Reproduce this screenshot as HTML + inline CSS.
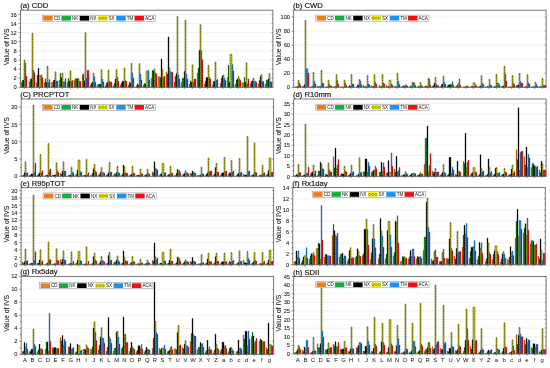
<!DOCTYPE html><html><head><meta charset="utf-8"><title>IVS</title><style>html,body{margin:0;padding:0;background:#fff}svg{display:block}text{font-family:"Liberation Sans",sans-serif;fill:#111}</style></head><body>
<svg width="550" height="368" viewBox="0 0 550 368">
<defs><pattern id="lo" width="2.35" height="2.35" patternUnits="userSpaceOnUse"><rect width="2.35" height="2.35" fill="#f47808"/><path d="M0 0L2.35 2.35M2.35 0L0 2.35" stroke="#c89860" stroke-width="0.25"/></pattern><pattern id="lg" width="2.35" height="2.35" patternUnits="userSpaceOnUse"><rect width="2.35" height="2.35" fill="#0eb03e"/><path d="M-1 2.35L2.35 -1M0 3.35L3.35 0" stroke="#3a8a50" stroke-width="0.28"/></pattern></defs>
<g>
<path d="M20.4 78.19H272.9M20.4 69.08H272.9M20.4 59.96H272.9M20.4 50.85H272.9M20.4 41.74H272.9M20.4 32.63H272.9M20.4 23.52H272.9M20.4 14.4H272.9" stroke="#e9e9e9" stroke-width="0.6" fill="none"/>
<path d="M21 87.3v-5.01h1V87.3zM29 87.3v-5.47h1V87.3zM36 87.3v-4.56h1V87.3zM44 87.3v-4.56h1V87.3zM51 87.3v-5.01h2V87.3zM59 87.3v-7.29h1V87.3zM67 87.3v-5.01h1V87.3zM74 87.3v-6.83h1V87.3zM82 87.3v-12.3h1V87.3zM90 87.3v-2.28h1V87.3zM97 87.3v-2.28h1V87.3zM105 87.3v-1.59h1V87.3zM113 87.3v-1.59h1V87.3zM120 87.3v-2.28h1V87.3zM128 87.3v-2.28h1V87.3zM136 87.3v-1.59h1V87.3zM143 87.3v-2.28h1V87.3zM151 87.3v-9.11h1V87.3zM158 87.3v-10.71h2V87.3zM166 87.3v-15.49h1V87.3zM174 87.3v-5.01h1V87.3zM181 87.3v-5.01h1V87.3zM189 87.3v-3.19h1V87.3zM197 87.3v-14.35h1V87.3zM204 87.3v-3.19h1V87.3zM212 87.3v-2.28h1V87.3zM220 87.3v-4.1h1V87.3zM227 87.3v-9.8h1V87.3zM235 87.3v-3.19h1V87.3zM242 87.3v-4.56h2V87.3zM250 87.3v-3.64h1V87.3zM258 87.3v-3.19h1V87.3zM265 87.3v-3.19h1V87.3z" fill="#e07a1c" stroke="#4a2200" stroke-width="0.45" stroke-opacity="0.5"/>
<path d="M21.5 83.19V87.3M29.5 82.73V87.3M36.5 83.64V87.3M44.5 83.64V87.3M52 83.19V87.3M59.5 80.91V87.3M67.5 83.19V87.3M74.5 81.37V87.3M82.5 75.9V87.3M90.5 85.92V87.3M97.5 85.92V87.3M105.5 86.61V87.3M113.5 86.61V87.3M120.5 85.92V87.3M128.5 85.92V87.3M136.5 86.61V87.3M143.5 85.92V87.3M151.5 79.09V87.3M159 77.49V87.3M166.5 72.71V87.3M174.5 83.19V87.3M181.5 83.19V87.3M189.5 85.01V87.3M197.5 73.85V87.3M204.5 85.01V87.3M212.5 85.92V87.3M220.5 84.1V87.3M227.5 78.4V87.3M235.5 85.01V87.3M243 83.64V87.3M250.5 84.56V87.3M258.5 85.01V87.3M265.5 85.01V87.3" stroke="#7a3c08" stroke-width="1" stroke-dasharray="0.7 1.5" stroke-opacity="0.55" fill="none"/>
<path d="M22 87.3v-6.83h1V87.3zM30 87.3v-8.2h1V87.3zM37 87.3v-12.3h1V87.3zM45 87.3v-8.43h1V87.3zM53 87.3v-6.83h1V87.3zM60 87.3v-14.12h1V87.3zM68 87.3v-8.88h1V87.3zM75 87.3v-8.88h2V87.3zM83 87.3v-13.67h1V87.3zM91 87.3v-4.1h1V87.3zM98 87.3v-3.19h2V87.3zM106 87.3v-4.1h1V87.3zM114 87.3v-4.1h1V87.3zM121 87.3v-4.1h1V87.3zM129 87.3v-5.24h1V87.3zM137 87.3v-3.64h1V87.3zM144 87.3v-4.1h1V87.3zM152 87.3v-17.09h1V87.3zM160 87.3v-9.8h1V87.3zM167 87.3v-13.21h1V87.3zM175 87.3v-11.16h1V87.3zM182 87.3v-9.11h2V87.3zM190 87.3v-6.61h1V87.3zM198 87.3v-19.36h1V87.3zM205 87.3v-6.15h1V87.3zM213 87.3v-5.7h1V87.3zM221 87.3v-9.11h1V87.3zM228 87.3v-22.1h1V87.3zM236 87.3v-7.29h1V87.3zM244 87.3v-9.8h1V87.3zM251 87.3v-6.15h1V87.3zM259 87.3v-6.83h1V87.3zM266 87.3v-7.29h2V87.3z" fill="#16a038" stroke="#002a08" stroke-width="0.45" stroke-opacity="0.5"/>
<path d="M22.5 81.37V87.3M30.5 80V87.3M37.5 75.9V87.3M45.5 79.77V87.3M53.5 81.37V87.3M60.5 74.08V87.3M68.5 79.32V87.3M76 79.32V87.3M83.5 74.53V87.3M91.5 84.1V87.3M99 85.01V87.3M106.5 84.1V87.3M114.5 84.1V87.3M121.5 84.1V87.3M129.5 82.96V87.3M137.5 84.56V87.3M144.5 84.1V87.3M152.5 71.12V87.3M160.5 78.4V87.3M167.5 74.99V87.3M175.5 77.04V87.3M183 79.09V87.3M190.5 81.59V87.3M198.5 68.84V87.3M205.5 82.05V87.3M213.5 82.5V87.3M221.5 79.09V87.3M228.5 66.1V87.3M236.5 80.91V87.3M244.5 78.4V87.3M251.5 82.05V87.3M259.5 81.37V87.3M267 80.91V87.3" stroke="#04300c" stroke-width="1" stroke-dasharray="0.9 1.3" stroke-opacity="0.8" fill="none"/>
<path d="M23 87.3v-7.29h1V87.3zM31 87.3v-8.43h1V87.3zM38 87.3v-19.14h1V87.3zM46 87.3v-5.01h1V87.3zM54 87.3v-7.29h1V87.3zM61 87.3v-9.57h1V87.3zM69 87.3v-6.38h1V87.3zM77 87.3v-8.2h1V87.3zM84 87.3v-6.38h1V87.3zM92 87.3v-5.01h1V87.3zM100 87.3v-3.19h1V87.3zM107 87.3v-5.01h1V87.3zM115 87.3v-8.2h1V87.3zM122 87.3v-6.15h2V87.3zM130 87.3v-4.1h1V87.3zM138 87.3v-2.28h1V87.3zM145 87.3v-3.19h1V87.3zM153 87.3v-16.4h1V87.3zM161 87.3v-28.25h1V87.3zM168 87.3v-50.34h1V87.3zM176 87.3v-13.9h1V87.3zM184 87.3v-15.95h1V87.3zM191 87.3v-5.24h1V87.3zM199 87.3v-36.9h1V87.3zM206 87.3v-9.8h2V87.3zM214 87.3v-6.15h1V87.3zM222 87.3v-11.39h1V87.3zM229 87.3v-5.01h1V87.3zM237 87.3v-8.2h1V87.3zM245 87.3v-5.01h1V87.3zM252 87.3v-6.61h1V87.3zM260 87.3v-11.16h1V87.3zM268 87.3v-8.43h1V87.3z" fill="#0c0c0c" stroke="#000" stroke-width="0.55" stroke-opacity="0.55"/>
<path d="M24 87.3v-27.34h1V87.3zM32 87.3v-54.22h1V87.3zM39 87.3v-11.85h2V87.3zM47 87.3v-21.19h1V87.3zM55 87.3v-15.49h1V87.3zM62 87.3v-14.12h1V87.3zM70 87.3v-16.63h1V87.3zM78 87.3v-8.88h1V87.3zM85 87.3v-54.67h1V87.3zM93 87.3v-14.12h1V87.3zM101 87.3v-17.5h1V87.3zM108 87.3v-17.31h1V87.3zM116 87.3v-17.54h1V87.3zM124 87.3v-19.36h1V87.3zM131 87.3v-24.15h1V87.3zM139 87.3v-23.69h1V87.3zM146 87.3v-16.4h2V87.3zM154 87.3v-18.45h1V87.3zM162 87.3v-18h1V87.3zM169 87.3v-19.59h1V87.3zM177 87.3v-70.85h1V87.3zM185 87.3v-67.2h1V87.3zM192 87.3v-22.55h1V87.3zM200 87.3v-62.65h1V87.3zM208 87.3v-22.1h1V87.3zM215 87.3v-25.29h1V87.3zM223 87.3v-12.3h1V87.3zM230 87.3v-33.03h2V87.3zM238 87.3v-10.71h1V87.3zM246 87.3v-24.6h1V87.3zM253 87.3v-9.11h1V87.3zM261 87.3v-12.76h1V87.3zM269 87.3v-13.9h1V87.3z" fill="#d6d612" stroke="#66660a" stroke-width="0.75" stroke-opacity="0.75"/>
<path d="M24.5 60.86V87.3M32.5 33.98V87.3M40 76.35V87.3M47.5 67.01V87.3M55.5 72.71V87.3M62.5 74.08V87.3M70.5 71.57V87.3M78.5 79.32V87.3M85.5 33.53V87.3M93.5 74.08V87.3M101.5 70.7V87.3M108.5 70.89V87.3M116.5 70.66V87.3M124.5 68.84V87.3M131.5 64.05V87.3M139.5 64.51V87.3M147 71.8V87.3M154.5 69.75V87.3M162.5 70.2V87.3M169.5 68.61V87.3M177.5 17.35V87.3M185.5 21V87.3M192.5 65.65V87.3M200.5 25.55V87.3M208.5 66.1V87.3M215.5 62.91V87.3M223.5 75.9V87.3M231 55.17V87.3M238.5 77.49V87.3M246.5 63.6V87.3M253.5 79.09V87.3M261.5 75.44V87.3M269.5 74.3V87.3" stroke="#3c3c00" stroke-width="1" stroke-dasharray="0.8 1.8" stroke-opacity="0.7" fill="none"/>
<path d="M25 87.3v-24.15h1V87.3zM33 87.3v-17.09h1V87.3zM41 87.3v-12.3h1V87.3zM48 87.3v-4.56h1V87.3zM56 87.3v-6.15h1V87.3zM63 87.3v-5.47h2V87.3zM71 87.3v-5.92h1V87.3zM79 87.3v-6.15h1V87.3zM86 87.3v-8.88h1V87.3zM94 87.3v-10.48h1V87.3zM102 87.3v-8.2h1V87.3zM109 87.3v-6.15h1V87.3zM117 87.3v-10.02h1V87.3zM125 87.3v-6.61h1V87.3zM132 87.3v-14.35h1V87.3zM140 87.3v-13.21h1V87.3zM148 87.3v-16.86h1V87.3zM155 87.3v-14.35h1V87.3zM163 87.3v-9.8h1V87.3zM170 87.3v-15.49h2V87.3zM178 87.3v-12.3h1V87.3zM186 87.3v-13.44h1V87.3zM193 87.3v-5.24h1V87.3zM201 87.3v-36.45h1V87.3zM209 87.3v-9.8h1V87.3zM216 87.3v-6.83h1V87.3zM224 87.3v-9.11h1V87.3zM232 87.3v-22.78h1V87.3zM239 87.3v-8.2h1V87.3zM247 87.3v-3.19h1V87.3zM254 87.3v-6.15h2V87.3zM262 87.3v-5.7h1V87.3zM270 87.3v-5.7h1V87.3z" fill="#1a8ce2" stroke="#08335e" stroke-width="0.55" stroke-opacity="0.55"/>
<path d="M26 87.3v-10.93h1V87.3zM34 87.3v-14.58h1V87.3zM42 87.3v-9.57h1V87.3zM49 87.3v-7.75h1V87.3zM57 87.3v-6.38h1V87.3zM65 87.3v-8.43h1V87.3zM72 87.3v-6.83h1V87.3zM80 87.3v-5.7h1V87.3zM87 87.3v-16.86h2V87.3zM95 87.3v-5.01h1V87.3zM103 87.3v-5.24h1V87.3zM110 87.3v-5.24h2V87.3zM118 87.3v-6.15h1V87.3zM126 87.3v-6.15h1V87.3zM133 87.3v-9.11h1V87.3zM141 87.3v-7.29h1V87.3zM149 87.3v-7.29h1V87.3zM156 87.3v-13.44h1V87.3zM164 87.3v-10.93h1V87.3zM172 87.3v-14.81h1V87.3zM179 87.3v-8.2h1V87.3zM187 87.3v-8.2h1V87.3zM194 87.3v-8.2h2V87.3zM202 87.3v-27.56h1V87.3zM210 87.3v-8.2h1V87.3zM217 87.3v-7.75h1V87.3zM225 87.3v-6.83h1V87.3zM233 87.3v-16.4h1V87.3zM240 87.3v-6.83h1V87.3zM248 87.3v-8.2h1V87.3zM256 87.3v-5.01h1V87.3zM263 87.3v-5.7h1V87.3zM271 87.3v-5.24h1V87.3z" fill="#e4142a" stroke="#55000a" stroke-width="0.5" stroke-opacity="0.5"/>
<rect x="20.4" y="10.2" width="252.5" height="77.1" fill="none" stroke="#626262" stroke-width="0.85"/>
<text x="16.8" y="89.45" font-size="5.75" text-anchor="end" stroke="#111" stroke-width="0.05">0</text>
<text x="16.8" y="80.34" font-size="5.75" text-anchor="end" stroke="#111" stroke-width="0.05">2</text>
<text x="16.8" y="71.23" font-size="5.75" text-anchor="end" stroke="#111" stroke-width="0.05">4</text>
<text x="16.8" y="62.11" font-size="5.75" text-anchor="end" stroke="#111" stroke-width="0.05">6</text>
<text x="16.8" y="53" font-size="5.75" text-anchor="end" stroke="#111" stroke-width="0.05">8</text>
<text x="16.8" y="43.89" font-size="5.75" text-anchor="end" stroke="#111" stroke-width="0.05">10</text>
<text x="16.8" y="34.78" font-size="5.75" text-anchor="end" stroke="#111" stroke-width="0.05">12</text>
<text x="16.8" y="25.67" font-size="5.75" text-anchor="end" stroke="#111" stroke-width="0.05">14</text>
<text x="16.8" y="16.55" font-size="5.75" text-anchor="end" stroke="#111" stroke-width="0.05">16</text>
<path d="M18.4 87.3H20.4M19.2 82.74H20.4M18.4 78.19H20.4M19.2 73.63H20.4M18.4 69.08H20.4M19.2 64.52H20.4M18.4 59.96H20.4M19.2 55.41H20.4M18.4 50.85H20.4M19.2 46.3H20.4M18.4 41.74H20.4M19.2 37.18H20.4M18.4 32.63H20.4M19.2 28.07H20.4M18.4 23.52H20.4M19.2 18.96H20.4M18.4 14.4H20.4M24.2 87.3v1.6M31.84 87.3v1.6M39.48 87.3v1.6M47.12 87.3v1.6M54.76 87.3v1.6M62.4 87.3v1.6M70.04 87.3v1.6M77.68 87.3v1.6M85.32 87.3v1.6M92.96 87.3v1.6M100.6 87.3v1.6M108.24 87.3v1.6M115.88 87.3v1.6M123.52 87.3v1.6M131.16 87.3v1.6M138.8 87.3v1.6M146.44 87.3v1.6M154.08 87.3v1.6M161.72 87.3v1.6M169.36 87.3v1.6M177 87.3v1.6M184.64 87.3v1.6M192.28 87.3v1.6M199.92 87.3v1.6M207.56 87.3v1.6M215.2 87.3v1.6M222.84 87.3v1.6M230.48 87.3v1.6M238.12 87.3v1.6M245.76 87.3v1.6M253.4 87.3v1.6M261.04 87.3v1.6M268.68 87.3v1.6" stroke="#626262" stroke-width="0.7" fill="none"/>
<path d="M271.5 87.3H272.9M272.06 82.74H272.9M271.5 78.19H272.9M272.06 73.63H272.9M271.5 69.08H272.9M272.06 64.52H272.9M271.5 59.96H272.9M272.06 55.41H272.9M271.5 50.85H272.9M272.06 46.3H272.9M271.5 41.74H272.9M272.06 37.18H272.9M271.5 32.63H272.9M272.06 28.07H272.9M271.5 23.52H272.9M272.06 18.96H272.9M271.5 14.4H272.9" stroke="#626262" stroke-width="0.6" fill="none"/>
<text x="20.3" y="7.9" font-size="7.65" stroke="#111" stroke-width="0.15">(a) CDD</text>
<text transform="translate(9.0,46.8) rotate(-90)" font-size="6.7" text-anchor="middle" stroke="#111" stroke-width="0.08">Value of IVS</text>
<rect x="42.3" y="15.2" width="113.2" height="6.1" fill="#fff" stroke="#8a8a8a" stroke-width="0.5"/>
<rect x="43.2" y="15.9" width="9.4" height="4.7" fill="url(#lo)"/>
<text x="53.7" y="19.9" font-size="4.5" fill="#707070">CD</text>
<rect x="61.47" y="15.9" width="9.4" height="4.7" fill="url(#lg)"/>
<text x="71.97" y="19.9" font-size="4.5" fill="#707070">NK</text>
<rect x="79.74" y="15.9" width="9.4" height="4.7" fill="#000"/>
<text x="90.24" y="19.9" font-size="4.5" fill="#707070">NX</text>
<rect x="98.01" y="15.9" width="9.4" height="4.7" fill="#f2f20c"/>
<circle cx="99.58" cy="18.25" r="1.1" fill="none" stroke="#55550a" stroke-width="0.5"/>
<circle cx="102.71" cy="18.25" r="1.1" fill="none" stroke="#55550a" stroke-width="0.5"/>
<circle cx="105.84" cy="18.25" r="1.1" fill="none" stroke="#55550a" stroke-width="0.5"/>
<text x="108.51" y="19.9" font-size="4.5" fill="#707070">SX</text>
<rect x="116.28" y="15.9" width="9.4" height="4.7" fill="#1e90f0"/>
<text x="126.78" y="19.9" font-size="4.5" fill="#707070">TM</text>
<rect x="134.55" y="15.9" width="9.4" height="4.7" fill="#f01010"/>
<text x="145.05" y="19.9" font-size="4.5" fill="#707070">ACA</text>
</g>
<g>
<path d="M293.65 73.25H546.1M293.65 59.2H546.1M293.65 45.15H546.1M293.65 31.1H546.1M293.65 17.05H546.1" stroke="#e9e9e9" stroke-width="0.6" fill="none"/>
<path d="M294 87.3v-0.42h2V87.3zM302 87.3v-0.7h1V87.3zM310 87.3v-0.42h1V87.3zM317 87.3v-1.12h1V87.3zM325 87.3v-0.35h1V87.3zM333 87.3v-0.42h1V87.3zM340 87.3v-0.35h1V87.3zM348 87.3v-0.56h1V87.3zM356 87.3v-0.56h1V87.3zM363 87.3v-2.04h1V87.3zM371 87.3v-1.69h1V87.3zM379 87.3v-2.04h1V87.3zM386 87.3v-2.04h1V87.3zM394 87.3v-1.12h1V87.3zM401 87.3v-0.7h2V87.3zM409 87.3v-0.42h1V87.3zM417 87.3v-0.42h1V87.3zM424 87.3v-0.7h1V87.3zM432 87.3v-1.12h1V87.3zM440 87.3v-0.84h1V87.3zM447 87.3v-1.69h1V87.3zM455 87.3v-0.56h1V87.3zM463 87.3v-0.35h1V87.3zM470 87.3v-0.42h1V87.3zM478 87.3v-0.42h1V87.3zM485 87.3v-0.42h2V87.3zM493 87.3v-0.42h1V87.3zM501 87.3v-0.56h1V87.3zM508 87.3v-0.35h1V87.3zM516 87.3v-1.69h1V87.3zM524 87.3v-0.42h1V87.3zM531 87.3v-0.35h1V87.3zM539 87.3v-0.7h1V87.3z" fill="#e07a1c" stroke="#4a2200" stroke-width="0.45" stroke-opacity="0.5"/>
<path d="M363.5 86.16V87.3M371.5 86.51V87.3M379.5 86.16V87.3M386.5 86.16V87.3M447.5 86.51V87.3M516.5 86.51V87.3" stroke="#7a3c08" stroke-width="1" stroke-dasharray="0.7 1.5" stroke-opacity="0.55" fill="none"/>
<path d="M296 87.3v-0.56h1V87.3zM303 87.3v-1.12h1V87.3zM311 87.3v-0.56h1V87.3zM318 87.3v-0.7h2V87.3zM326 87.3v-0.42h1V87.3zM334 87.3v-0.84h1V87.3zM341 87.3v-0.56h1V87.3zM349 87.3v-2.04h1V87.3zM357 87.3v-2.46h1V87.3zM364 87.3v-0.7h1V87.3zM372 87.3v-0.84h1V87.3zM380 87.3v-0.7h1V87.3zM387 87.3v-0.7h1V87.3zM395 87.3v-0.7h1V87.3zM403 87.3v-1.69h1V87.3zM410 87.3v-1.41h1V87.3zM418 87.3v-1.12h1V87.3zM425 87.3v-1.41h2V87.3zM433 87.3v-2.04h1V87.3zM441 87.3v-2.46h1V87.3zM448 87.3v-2.46h1V87.3zM456 87.3v-1.12h1V87.3zM464 87.3v-0.56h1V87.3zM471 87.3v-1.12h1V87.3zM479 87.3v-0.7h1V87.3zM487 87.3v-1.12h1V87.3zM494 87.3v-1.12h1V87.3zM502 87.3v-1.41h1V87.3zM509 87.3v-0.56h2V87.3zM517 87.3v-2.04h1V87.3zM525 87.3v-0.7h1V87.3zM532 87.3v-0.56h2V87.3zM540 87.3v-1.12h1V87.3z" fill="#16a038" stroke="#002a08" stroke-width="0.45" stroke-opacity="0.5"/>
<path d="M349.5 86.16V87.3M357.5 85.74V87.3M403.5 86.51V87.3M410.5 86.8V87.3M426 86.8V87.3M433.5 86.16V87.3M441.5 85.74V87.3M448.5 85.74V87.3M502.5 86.8V87.3M517.5 86.16V87.3" stroke="#04300c" stroke-width="1" stroke-dasharray="0.9 1.3" stroke-opacity="0.8" fill="none"/>
<path d="M297 87.3v-0.56h1V87.3zM304 87.3v-2.67h1V87.3zM312 87.3v-0.7h1V87.3zM320 87.3v-0.7h1V87.3zM327 87.3v-0.42h1V87.3zM335 87.3v-0.56h1V87.3zM342 87.3v-0.42h2V87.3zM350 87.3v-0.7h1V87.3zM358 87.3v-2.04h1V87.3zM365 87.3v-0.56h2V87.3zM373 87.3v-0.7h1V87.3zM381 87.3v-0.7h1V87.3zM388 87.3v-0.56h1V87.3zM396 87.3v-0.56h1V87.3zM404 87.3v-0.7h1V87.3zM411 87.3v-0.7h1V87.3zM419 87.3v-0.56h1V87.3zM427 87.3v-0.84h1V87.3zM434 87.3v-3.93h1V87.3zM442 87.3v-3.3h1V87.3zM449 87.3v-2.67h2V87.3zM457 87.3v-2.04h1V87.3zM465 87.3v-0.42h1V87.3zM472 87.3v-0.7h1V87.3zM480 87.3v-1.41h1V87.3zM488 87.3v-0.56h1V87.3zM495 87.3v-0.56h1V87.3zM503 87.3v-1.41h1V87.3zM511 87.3v-0.42h1V87.3zM518 87.3v-2.46h1V87.3zM526 87.3v-0.56h1V87.3zM533 87.3v-0.42h2V87.3zM541 87.3v-0.56h1V87.3z" fill="#0c0c0c" stroke="#000" stroke-width="0.55" stroke-opacity="0.55"/>
<path d="M298 87.3v-7.17h1V87.3zM305 87.3v-67.09h1V87.3zM313 87.3v-15.1h1V87.3zM321 87.3v-17h1V87.3zM328 87.3v-7.17h1V87.3zM336 87.3v-12.64h1V87.3zM344 87.3v-7.17h1V87.3zM351 87.3v-12.93h1V87.3zM359 87.3v-8.08h1V87.3zM367 87.3v-12.01h1V87.3zM374 87.3v-12.64h1V87.3zM382 87.3v-13.14h1V87.3zM389 87.3v-7.17h2V87.3zM397 87.3v-14.19h1V87.3zM405 87.3v-2.46h1V87.3zM412 87.3v-5.27h1V87.3zM420 87.3v-4.99h1V87.3zM428 87.3v-9.06h1V87.3zM435 87.3v-10.12h1V87.3zM443 87.3v-11.38h1V87.3zM451 87.3v-2.95h1V87.3zM458 87.3v-4.21h1V87.3zM466 87.3v-1.41h1V87.3zM473 87.3v-4.57h2V87.3zM481 87.3v-11.87h1V87.3zM489 87.3v-8.08h1V87.3zM496 87.3v-12.93h1V87.3zM504 87.3v-21.22h1V87.3zM512 87.3v-11.87h1V87.3zM519 87.3v-13.91h1V87.3zM527 87.3v-12.64h1V87.3zM535 87.3v-5.27h1V87.3zM542 87.3v-9.06h1V87.3z" fill="#d6d612" stroke="#66660a" stroke-width="0.75" stroke-opacity="0.75"/>
<path d="M298.5 81.03V87.3M305.5 21.11V87.3M313.5 73.1V87.3M321.5 71.2V87.3M328.5 81.03V87.3M336.5 75.56V87.3M344.5 81.03V87.3M351.5 75.27V87.3M359.5 80.12V87.3M367.5 76.19V87.3M374.5 75.56V87.3M382.5 75.06V87.3M390 81.03V87.3M397.5 74.01V87.3M405.5 85.74V87.3M412.5 82.93V87.3M420.5 83.21V87.3M428.5 79.14V87.3M435.5 78.08V87.3M443.5 76.82V87.3M451.5 85.25V87.3M458.5 83.98V87.3M466.5 86.8V87.3M474 83.63V87.3M481.5 76.33V87.3M489.5 80.12V87.3M496.5 75.27V87.3M504.5 66.98V87.3M512.5 76.33V87.3M519.5 74.29V87.3M527.5 75.56V87.3M535.5 82.93V87.3M542.5 79.14V87.3" stroke="#3c3c00" stroke-width="1" stroke-dasharray="0.8 1.8" stroke-opacity="0.7" fill="none"/>
<path d="M299 87.3v-4.21h1V87.3zM306 87.3v-18.62h2V87.3zM314 87.3v-5.9h1V87.3zM322 87.3v-4.21h1V87.3zM329 87.3v-2.95h1V87.3zM337 87.3v-6.74h1V87.3zM345 87.3v-3.93h1V87.3zM352 87.3v-3.3h1V87.3zM360 87.3v-6.25h1V87.3zM368 87.3v-3.3h1V87.3zM375 87.3v-4.85h1V87.3zM383 87.3v-4.21h1V87.3zM391 87.3v-3.3h1V87.3zM398 87.3v-5.9h1V87.3zM406 87.3v-2.04h1V87.3zM413 87.3v-4.57h2V87.3zM421 87.3v-2.04h1V87.3zM429 87.3v-8.08h1V87.3zM436 87.3v-2.95h1V87.3zM444 87.3v-4.99h1V87.3zM452 87.3v-5.48h1V87.3zM459 87.3v-8.43h1V87.3zM467 87.3v-1.12h1V87.3zM475 87.3v-2.67h1V87.3zM482 87.3v-3.93h1V87.3zM490 87.3v-2.46h1V87.3zM497 87.3v-4.21h2V87.3zM505 87.3v-12.93h1V87.3zM513 87.3v-3.93h1V87.3zM520 87.3v-5.9h1V87.3zM528 87.3v-4.21h1V87.3zM536 87.3v-2.95h1V87.3zM543 87.3v-1.69h1V87.3z" fill="#1a8ce2" stroke="#08335e" stroke-width="0.55" stroke-opacity="0.55"/>
<path d="M300 87.3v-2.04h1V87.3zM308 87.3v-14.19h1V87.3zM315 87.3v-3.3h1V87.3zM323 87.3v-3.72h1V87.3zM330 87.3v-1.41h2V87.3zM338 87.3v-2.95h1V87.3zM346 87.3v-1.69h1V87.3zM353 87.3v-3.3h1V87.3zM361 87.3v-2.67h1V87.3zM369 87.3v-2.67h1V87.3zM376 87.3v-2.95h1V87.3zM384 87.3v-3.3h1V87.3zM392 87.3v-2.04h1V87.3zM399 87.3v-2.67h1V87.3zM407 87.3v-1.12h1V87.3zM415 87.3v-1.69h1V87.3zM422 87.3v-1.12h1V87.3zM430 87.3v-2.04h1V87.3zM437 87.3v-1.69h2V87.3zM445 87.3v-2.95h1V87.3zM453 87.3v-2.04h1V87.3zM460 87.3v-2.04h1V87.3zM468 87.3v-0.7h1V87.3zM476 87.3v-1.41h1V87.3zM483 87.3v-2.67h1V87.3zM491 87.3v-1.69h1V87.3zM499 87.3v-2.67h1V87.3zM506 87.3v-6.11h1V87.3zM514 87.3v-2.46h1V87.3zM521 87.3v-4.21h2V87.3zM529 87.3v-2.95h1V87.3zM537 87.3v-1.12h1V87.3zM544 87.3v-2.04h2V87.3z" fill="#e4142a" stroke="#55000a" stroke-width="0.5" stroke-opacity="0.5"/>
<rect x="293.65" y="10.2" width="252.45" height="77.1" fill="none" stroke="#626262" stroke-width="0.85"/>
<text x="290.05" y="89.45" font-size="5.75" text-anchor="end" stroke="#111" stroke-width="0.05">0</text>
<text x="290.05" y="75.4" font-size="5.75" text-anchor="end" stroke="#111" stroke-width="0.05">20</text>
<text x="290.05" y="61.35" font-size="5.75" text-anchor="end" stroke="#111" stroke-width="0.05">40</text>
<text x="290.05" y="47.3" font-size="5.75" text-anchor="end" stroke="#111" stroke-width="0.05">60</text>
<text x="290.05" y="33.25" font-size="5.75" text-anchor="end" stroke="#111" stroke-width="0.05">80</text>
<text x="290.05" y="19.2" font-size="5.75" text-anchor="end" stroke="#111" stroke-width="0.05">100</text>
<path d="M291.65 87.3H293.65M292.45 80.27H293.65M291.65 73.25H293.65M292.45 66.22H293.65M291.65 59.2H293.65M292.45 52.17H293.65M291.65 45.15H293.65M292.45 38.12H293.65M291.65 31.1H293.65M292.45 24.07H293.65M291.65 17.05H293.65M292.45 10.02H293.65M297.75 87.3v1.6M305.39 87.3v1.6M313.03 87.3v1.6M320.67 87.3v1.6M328.31 87.3v1.6M335.95 87.3v1.6M343.59 87.3v1.6M351.23 87.3v1.6M358.87 87.3v1.6M366.51 87.3v1.6M374.15 87.3v1.6M381.79 87.3v1.6M389.43 87.3v1.6M397.07 87.3v1.6M404.71 87.3v1.6M412.35 87.3v1.6M419.99 87.3v1.6M427.63 87.3v1.6M435.27 87.3v1.6M442.91 87.3v1.6M450.55 87.3v1.6M458.19 87.3v1.6M465.83 87.3v1.6M473.47 87.3v1.6M481.11 87.3v1.6M488.75 87.3v1.6M496.39 87.3v1.6M504.03 87.3v1.6M511.67 87.3v1.6M519.31 87.3v1.6M526.95 87.3v1.6M534.59 87.3v1.6M542.23 87.3v1.6" stroke="#626262" stroke-width="0.7" fill="none"/>
<path d="M544.7 87.3H546.1M545.26 80.27H546.1M544.7 73.25H546.1M545.26 66.22H546.1M544.7 59.2H546.1M545.26 52.17H546.1M544.7 45.15H546.1M545.26 38.12H546.1M544.7 31.1H546.1M545.26 24.07H546.1M544.7 17.05H546.1M545.26 10.02H546.1" stroke="#626262" stroke-width="0.6" fill="none"/>
<text x="293" y="7.9" font-size="7.65" stroke="#111" stroke-width="0.15">(b) CWD</text>
<text transform="translate(281.3,46.8) rotate(-90)" font-size="6.7" text-anchor="middle" stroke="#111" stroke-width="0.08">Value of IVS</text>
<rect x="315.8" y="15.1" width="113.2" height="6.1" fill="#fff" stroke="#8a8a8a" stroke-width="0.5"/>
<rect x="316.7" y="15.8" width="9.4" height="4.7" fill="url(#lo)"/>
<text x="327.2" y="19.8" font-size="4.5" fill="#707070">CD</text>
<rect x="334.97" y="15.8" width="9.4" height="4.7" fill="url(#lg)"/>
<text x="345.47" y="19.8" font-size="4.5" fill="#707070">NK</text>
<rect x="353.24" y="15.8" width="9.4" height="4.7" fill="#000"/>
<text x="363.74" y="19.8" font-size="4.5" fill="#707070">NX</text>
<rect x="371.51" y="15.8" width="9.4" height="4.7" fill="#f2f20c"/>
<circle cx="373.08" cy="18.15" r="1.1" fill="none" stroke="#55550a" stroke-width="0.5"/>
<circle cx="376.21" cy="18.15" r="1.1" fill="none" stroke="#55550a" stroke-width="0.5"/>
<circle cx="379.34" cy="18.15" r="1.1" fill="none" stroke="#55550a" stroke-width="0.5"/>
<text x="382.01" y="19.8" font-size="4.5" fill="#707070">SX</text>
<rect x="389.78" y="15.8" width="9.4" height="4.7" fill="#1e90f0"/>
<text x="400.28" y="19.8" font-size="4.5" fill="#707070">TM</text>
<rect x="408.05" y="15.8" width="9.4" height="4.7" fill="#f01010"/>
<text x="418.55" y="19.8" font-size="4.5" fill="#707070">ACA</text>
</g>
<g>
<path d="M21.15 159H273.65M21.15 141.7H273.65M21.15 124.4H273.65M21.15 107.1H273.65" stroke="#e9e9e9" stroke-width="0.6" fill="none"/>
<path d="M22 176.3v-1.04h1V176.3zM29 176.3v-1.04h1V176.3zM37 176.3v-1.04h1V176.3zM45 176.3v-1.04h1V176.3zM52 176.3v-1.38h1V176.3zM60 176.3v-3.11h1V176.3zM68 176.3v-1.04h1V176.3zM75 176.3v-1.04h1V176.3zM83 176.3v-1.04h1V176.3zM90 176.3v-1.04h2V176.3zM98 176.3v-1.38h1V176.3zM106 176.3v-1.38h1V176.3zM113 176.3v-1.04h1V176.3zM121 176.3v-1.04h1V176.3zM129 176.3v-1.04h1V176.3zM136 176.3v-1.04h1V176.3zM144 176.3v-1.04h1V176.3zM152 176.3v-4.67h1V176.3zM159 176.3v-1.04h1V176.3zM167 176.3v-1.04h1V176.3zM174 176.3v-1.04h2V176.3zM182 176.3v-1.04h1V176.3zM190 176.3v-3.11h1V176.3zM197 176.3v-0.69h1V176.3zM205 176.3v-1.04h1V176.3zM213 176.3v-1.38h1V176.3zM220 176.3v-1.04h1V176.3zM228 176.3v-2.25h1V176.3zM236 176.3v-1.04h1V176.3zM243 176.3v-2.25h1V176.3zM251 176.3v-1.04h1V176.3zM259 176.3v-1.04h1V176.3zM266 176.3v-1.38h1V176.3z" fill="#e07a1c" stroke="#4a2200" stroke-width="0.45" stroke-opacity="0.5"/>
<path d="M52.5 175.82V176.3M60.5 174.09V176.3M98.5 175.82V176.3M106.5 175.82V176.3M152.5 172.53V176.3M190.5 174.09V176.3M213.5 175.82V176.3M228.5 174.95V176.3M243.5 174.95V176.3M266.5 175.82V176.3" stroke="#7a3c08" stroke-width="1" stroke-dasharray="0.7 1.5" stroke-opacity="0.55" fill="none"/>
<path d="M23 176.3v-1.04h1V176.3zM30 176.3v-1.38h1V176.3zM38 176.3v-2.25h1V176.3zM46 176.3v-1.04h1V176.3zM53 176.3v-1.04h1V176.3zM61 176.3v-2.25h1V176.3zM69 176.3v-1.38h1V176.3zM76 176.3v-2.25h1V176.3zM84 176.3v-1.04h1V176.3zM92 176.3v-3.11h1V176.3zM99 176.3v-1.73h1V176.3zM107 176.3v-1.73h1V176.3zM114 176.3v-2.59h2V176.3zM122 176.3v-2.25h1V176.3zM130 176.3v-1.38h1V176.3zM137 176.3v-1.04h1V176.3zM145 176.3v-1.38h1V176.3zM153 176.3v-3.46h1V176.3zM160 176.3v-2.25h1V176.3zM168 176.3v-1.9h1V176.3zM176 176.3v-3.11h1V176.3zM183 176.3v-2.25h1V176.3zM191 176.3v-2.59h1V176.3zM198 176.3v-1.04h2V176.3zM206 176.3v-2.25h1V176.3zM214 176.3v-2.59h1V176.3zM221 176.3v-3.11h1V176.3zM229 176.3v-3.81h1V176.3zM237 176.3v-2.25h1V176.3zM244 176.3v-1.38h1V176.3zM252 176.3v-1.38h1V176.3zM260 176.3v-1.38h1V176.3zM267 176.3v-2.25h1V176.3z" fill="#16a038" stroke="#002a08" stroke-width="0.45" stroke-opacity="0.5"/>
<path d="M30.5 175.82V176.3M38.5 174.95V176.3M61.5 174.95V176.3M69.5 175.82V176.3M76.5 174.95V176.3M92.5 174.09V176.3M99.5 175.47V176.3M107.5 175.47V176.3M115 174.61V176.3M122.5 174.95V176.3M130.5 175.82V176.3M145.5 175.82V176.3M153.5 173.74V176.3M160.5 174.95V176.3M168.5 175.3V176.3M176.5 174.09V176.3M183.5 174.95V176.3M191.5 174.61V176.3M206.5 174.95V176.3M214.5 174.61V176.3M221.5 174.09V176.3M229.5 173.39V176.3M237.5 174.95V176.3M244.5 175.82V176.3M252.5 175.82V176.3M260.5 175.82V176.3M267.5 174.95V176.3" stroke="#04300c" stroke-width="1" stroke-dasharray="0.9 1.3" stroke-opacity="0.8" fill="none"/>
<path d="M24 176.3v-3.46h1V176.3zM31 176.3v-2.25h2V176.3zM39 176.3v-3.46h1V176.3zM47 176.3v-1.38h1V176.3zM54 176.3v-1.38h2V176.3zM62 176.3v-5.19h1V176.3zM70 176.3v-1.38h1V176.3zM77 176.3v-6.4h1V176.3zM85 176.3v-1.38h1V176.3zM93 176.3v-7.61h1V176.3zM100 176.3v-3.81h1V176.3zM108 176.3v-3.46h1V176.3zM116 176.3v-3.81h1V176.3zM123 176.3v-11.24h1V176.3zM131 176.3v-2.25h1V176.3zM138 176.3v-1.04h2V176.3zM146 176.3v-1.9h1V176.3zM154 176.3v-14.53h1V176.3zM161 176.3v-2.59h1V176.3zM169 176.3v-1.9h1V176.3zM177 176.3v-6.92h1V176.3zM184 176.3v-3.11h1V176.3zM192 176.3v-5.19h1V176.3zM200 176.3v-1.38h1V176.3zM207 176.3v-3.46h1V176.3zM215 176.3v-8.82h1V176.3zM222 176.3v-3.46h2V176.3zM230 176.3v-3.11h1V176.3zM238 176.3v-3.11h1V176.3zM245 176.3v-1.38h2V176.3zM253 176.3v-1.9h1V176.3zM261 176.3v-1.04h1V176.3zM268 176.3v-5.88h1V176.3z" fill="#0c0c0c" stroke="#000" stroke-width="0.55" stroke-opacity="0.55"/>
<path d="M25 176.3v-14.53h1V176.3zM33 176.3v-71.1h1V176.3zM40 176.3v-21.97h1V176.3zM48 176.3v-32.87h1V176.3zM56 176.3v-13.49h1V176.3zM63 176.3v-14.53h1V176.3zM71 176.3v-9.17h1V176.3zM78 176.3v-16.26h2V176.3zM86 176.3v-16.95h1V176.3zM94 176.3v-12.11h1V176.3zM101 176.3v-8.82h1V176.3zM109 176.3v-14.01h1V176.3zM117 176.3v-10.03h1V176.3zM124 176.3v-9.69h1V176.3zM132 176.3v-10.21h1V176.3zM140 176.3v-7.27h1V176.3zM147 176.3v-7.27h1V176.3zM155 176.3v-7.96h1V176.3zM162 176.3v-12.97h2V176.3zM170 176.3v-10.21h1V176.3zM178 176.3v-5.54h1V176.3zM185 176.3v-5.54h1V176.3zM193 176.3v-4.15h1V176.3zM201 176.3v-9.17h1V176.3zM208 176.3v-18.34h1V176.3zM216 176.3v-12.97h1V176.3zM224 176.3v-19.03h1V176.3zM231 176.3v-15.74h1V176.3zM239 176.3v-17.82h1V176.3zM247 176.3v-39.96h1V176.3zM254 176.3v-33.39h1V176.3zM262 176.3v-11.24h1V176.3zM269 176.3v-18.34h2V176.3z" fill="#d6d612" stroke="#66660a" stroke-width="0.75" stroke-opacity="0.75"/>
<path d="M25.5 162.67V176.3M33.5 106.1V176.3M40.5 155.23V176.3M48.5 144.33V176.3M56.5 163.71V176.3M63.5 162.67V176.3M71.5 168.03V176.3M79 160.94V176.3M86.5 160.25V176.3M94.5 165.09V176.3M101.5 168.38V176.3M109.5 163.19V176.3M117.5 167.17V176.3M124.5 167.51V176.3M132.5 166.99V176.3M140.5 169.93V176.3M147.5 169.93V176.3M155.5 169.24V176.3M163 164.23V176.3M170.5 166.99V176.3M178.5 171.66V176.3M185.5 171.66V176.3M193.5 173.05V176.3M201.5 168.03V176.3M208.5 158.86V176.3M216.5 164.23V176.3M224.5 158.17V176.3M231.5 161.46V176.3M239.5 159.38V176.3M247.5 137.24V176.3M254.5 143.81V176.3M262.5 165.96V176.3M270 158.86V176.3" stroke="#3c3c00" stroke-width="1" stroke-dasharray="0.8 1.8" stroke-opacity="0.7" fill="none"/>
<path d="M26 176.3v-3.11h1V176.3zM34 176.3v-3.81h1V176.3zM41 176.3v-3.46h1V176.3zM49 176.3v-5.54h1V176.3zM57 176.3v-5.54h1V176.3zM64 176.3v-5.19h1V176.3zM72 176.3v-4.15h1V176.3zM80 176.3v-4.67h1V176.3zM87 176.3v-1.38h1V176.3zM95 176.3v-5.19h1V176.3zM102 176.3v-3.81h2V176.3zM110 176.3v-4.15h1V176.3zM118 176.3v-3.81h1V176.3zM125 176.3v-3.46h1V176.3zM133 176.3v-3.11h1V176.3zM141 176.3v-2.59h1V176.3zM148 176.3v-3.11h1V176.3zM156 176.3v-7.27h1V176.3zM164 176.3v-3.46h1V176.3zM171 176.3v-3.11h1V176.3zM179 176.3v-5.88h1V176.3zM186 176.3v-3.46h2V176.3zM194 176.3v-3.46h1V176.3zM202 176.3v-2.59h1V176.3zM209 176.3v-4.67h1V176.3zM217 176.3v-4.15h1V176.3zM225 176.3v-4.67h1V176.3zM232 176.3v-4.15h1V176.3zM240 176.3v-3.46h1V176.3zM248 176.3v-4.67h1V176.3zM255 176.3v-4.15h1V176.3zM263 176.3v-3.11h1V176.3zM271 176.3v-3.81h1V176.3z" fill="#1a8ce2" stroke="#08335e" stroke-width="0.55" stroke-opacity="0.55"/>
<path d="M27 176.3v-3.46h1V176.3zM35 176.3v-12.97h1V176.3zM42 176.3v-5.54h1V176.3zM50 176.3v-7.27h1V176.3zM58 176.3v-3.81h1V176.3zM65 176.3v-5.19h1V176.3zM73 176.3v-3.11h1V176.3zM81 176.3v-4.15h1V176.3zM88 176.3v-3.46h1V176.3zM96 176.3v-3.81h1V176.3zM104 176.3v-3.11h1V176.3zM111 176.3v-4.15h1V176.3zM119 176.3v-3.11h1V176.3zM126 176.3v-3.11h2V176.3zM134 176.3v-3.11h1V176.3zM142 176.3v-2.25h1V176.3zM149 176.3v-2.25h1V176.3zM157 176.3v-6.4h1V176.3zM165 176.3v-3.46h1V176.3zM172 176.3v-3.11h1V176.3zM180 176.3v-3.46h1V176.3zM188 176.3v-2.59h1V176.3zM195 176.3v-3.11h1V176.3zM203 176.3v-2.25h1V176.3zM210 176.3v-5.19h2V176.3zM218 176.3v-4.15h1V176.3zM226 176.3v-5.19h1V176.3zM233 176.3v-5.19h1V176.3zM241 176.3v-4.15h1V176.3zM249 176.3v-5.19h1V176.3zM256 176.3v-3.46h1V176.3zM264 176.3v-3.46h1V176.3zM272 176.3v-4.15h1V176.3z" fill="#e4142a" stroke="#55000a" stroke-width="0.5" stroke-opacity="0.5"/>
<rect x="21.15" y="99" width="252.5" height="77.3" fill="none" stroke="#626262" stroke-width="0.85"/>
<text x="17.55" y="178.45" font-size="5.75" text-anchor="end" stroke="#111" stroke-width="0.05">0</text>
<text x="17.55" y="161.15" font-size="5.75" text-anchor="end" stroke="#111" stroke-width="0.05">5</text>
<text x="17.55" y="143.85" font-size="5.75" text-anchor="end" stroke="#111" stroke-width="0.05">10</text>
<text x="17.55" y="126.55" font-size="5.75" text-anchor="end" stroke="#111" stroke-width="0.05">15</text>
<text x="17.55" y="109.25" font-size="5.75" text-anchor="end" stroke="#111" stroke-width="0.05">20</text>
<path d="M19.15 176.3H21.15M19.95 167.65H21.15M19.15 159H21.15M19.95 150.35H21.15M19.15 141.7H21.15M19.95 133.05H21.15M19.15 124.4H21.15M19.95 115.75H21.15M19.15 107.1H21.15M24.95 176.3v1.6M32.59 176.3v1.6M40.23 176.3v1.6M47.87 176.3v1.6M55.51 176.3v1.6M63.15 176.3v1.6M70.79 176.3v1.6M78.43 176.3v1.6M86.07 176.3v1.6M93.71 176.3v1.6M101.35 176.3v1.6M108.99 176.3v1.6M116.63 176.3v1.6M124.27 176.3v1.6M131.91 176.3v1.6M139.55 176.3v1.6M147.19 176.3v1.6M154.83 176.3v1.6M162.47 176.3v1.6M170.11 176.3v1.6M177.75 176.3v1.6M185.39 176.3v1.6M193.03 176.3v1.6M200.67 176.3v1.6M208.31 176.3v1.6M215.95 176.3v1.6M223.59 176.3v1.6M231.23 176.3v1.6M238.87 176.3v1.6M246.51 176.3v1.6M254.15 176.3v1.6M261.79 176.3v1.6M269.43 176.3v1.6" stroke="#626262" stroke-width="0.7" fill="none"/>
<path d="M272.25 176.3H273.65M272.81 167.65H273.65M272.25 159H273.65M272.81 150.35H273.65M272.25 141.7H273.65M272.81 133.05H273.65M272.25 124.4H273.65M272.81 115.75H273.65M272.25 107.1H273.65" stroke="#626262" stroke-width="0.6" fill="none"/>
<text x="20.25" y="96.6" font-size="7.65" stroke="#111" stroke-width="0.15">(C) PRCPTOT</text>
<text transform="translate(9.0,135.7) rotate(-90)" font-size="6.7" text-anchor="middle" stroke="#111" stroke-width="0.08">Value of IVS</text>
<rect x="42.3" y="104.3" width="113.2" height="6.1" fill="#fff" stroke="#8a8a8a" stroke-width="0.5"/>
<rect x="43.2" y="105" width="9.4" height="4.7" fill="url(#lo)"/>
<text x="53.7" y="109" font-size="4.5" fill="#707070">CD</text>
<rect x="61.47" y="105" width="9.4" height="4.7" fill="url(#lg)"/>
<text x="71.97" y="109" font-size="4.5" fill="#707070">NK</text>
<rect x="79.74" y="105" width="9.4" height="4.7" fill="#000"/>
<text x="90.24" y="109" font-size="4.5" fill="#707070">NX</text>
<rect x="98.01" y="105" width="9.4" height="4.7" fill="#f2f20c"/>
<circle cx="99.58" cy="107.35" r="1.1" fill="none" stroke="#55550a" stroke-width="0.5"/>
<circle cx="102.71" cy="107.35" r="1.1" fill="none" stroke="#55550a" stroke-width="0.5"/>
<circle cx="105.84" cy="107.35" r="1.1" fill="none" stroke="#55550a" stroke-width="0.5"/>
<text x="108.51" y="109" font-size="4.5" fill="#707070">SX</text>
<rect x="116.28" y="105" width="9.4" height="4.7" fill="#1e90f0"/>
<text x="126.78" y="109" font-size="4.5" fill="#707070">TM</text>
<rect x="134.55" y="105" width="9.4" height="4.7" fill="#f01010"/>
<text x="145.05" y="109" font-size="4.5" fill="#707070">ACA</text>
</g>
<g>
<path d="M293.65 166H546.1M293.65 155.6H546.1M293.65 145.2H546.1M293.65 134.8H546.1M293.65 124.4H546.1M293.65 114H546.1M293.65 103.6H546.1" stroke="#e9e9e9" stroke-width="0.6" fill="none"/>
<path d="M294 176.4v-0.83h2V176.4zM302 176.4v-0.62h1V176.4zM310 176.4v-2.29h1V176.4zM317 176.4v-1.04h1V176.4zM325 176.4v-2.29h1V176.4zM333 176.4v-19.55h1V176.4zM340 176.4v-1.46h1V176.4zM348 176.4v-1.46h1V176.4zM356 176.4v-1.04h1V176.4zM363 176.4v-4.78h1V176.4zM371 176.4v-3.95h1V176.4zM379 176.4v-4.37h1V176.4zM386 176.4v-3.12h1V176.4zM394 176.4v-7.28h1V176.4zM401 176.4v-1.04h2V176.4zM409 176.4v-1.04h1V176.4zM417 176.4v-1.04h1V176.4zM424 176.4v-12.27h1V176.4zM432 176.4v-5.3h1V176.4zM440 176.4v-1.46h1V176.4zM447 176.4v-1.46h1V176.4zM455 176.4v-2.29h1V176.4zM463 176.4v-15.18h1V176.4zM470 176.4v-1.46h1V176.4zM478 176.4v-1.04h1V176.4zM485 176.4v-1.04h2V176.4zM493 176.4v-1.46h1V176.4zM501 176.4v-1.04h1V176.4zM508 176.4v-1.04h1V176.4zM516 176.4v-26.62h1V176.4zM524 176.4v-19.55h1V176.4zM531 176.4v-8.94h1V176.4zM539 176.4v-6.45h1V176.4z" fill="#e07a1c" stroke="#4a2200" stroke-width="0.45" stroke-opacity="0.5"/>
<path d="M310.5 175.01V176.4M325.5 175.01V176.4M333.5 157.75V176.4M340.5 175.84V176.4M348.5 175.84V176.4M363.5 172.52V176.4M371.5 173.35V176.4M379.5 172.93V176.4M386.5 174.18V176.4M394.5 170.02V176.4M424.5 165.03V176.4M432.5 172V176.4M440.5 175.84V176.4M447.5 175.84V176.4M455.5 175.01V176.4M463.5 162.12V176.4M470.5 175.84V176.4M493.5 175.84V176.4M516.5 150.68V176.4M524.5 157.75V176.4M531.5 168.36V176.4M539.5 170.85V176.4" stroke="#7a3c08" stroke-width="1" stroke-dasharray="0.7 1.5" stroke-opacity="0.55" fill="none"/>
<path d="M296 176.4v-2.29h1V176.4zM303 176.4v-1.04h1V176.4zM311 176.4v-3.95h1V176.4zM318 176.4v-5.3h2V176.4zM326 176.4v-2.08h1V176.4zM334 176.4v-8.53h1V176.4zM341 176.4v-3.12h1V176.4zM349 176.4v-1.46h1V176.4zM357 176.4v-1.04h1V176.4zM364 176.4v-4.37h1V176.4zM372 176.4v-4.78h1V176.4zM380 176.4v-4.37h1V176.4zM387 176.4v-3.74h1V176.4zM395 176.4v-4.37h1V176.4zM403 176.4v-2.08h1V176.4zM410 176.4v-1.46h1V176.4zM418 176.4v-1.46h1V176.4zM425 176.4v-38.27h2V176.4zM433 176.4v-3.74h1V176.4zM441 176.4v-2.29h1V176.4zM448 176.4v-2.29h1V176.4zM456 176.4v-1.46h1V176.4zM464 176.4v-13h1V176.4zM471 176.4v-3.12h1V176.4zM479 176.4v-2.08h1V176.4zM487 176.4v-2.29h1V176.4zM494 176.4v-2.29h1V176.4zM502 176.4v-2.08h1V176.4zM509 176.4v-2.08h2V176.4zM517 176.4v-17.06h1V176.4zM525 176.4v-11.44h1V176.4zM532 176.4v-13h2V176.4zM540 176.4v-3.74h1V176.4z" fill="#16a038" stroke="#002a08" stroke-width="0.45" stroke-opacity="0.5"/>
<path d="M296.5 175.01V176.4M311.5 173.35V176.4M319 172V176.4M326.5 175.22V176.4M334.5 168.77V176.4M341.5 174.18V176.4M349.5 175.84V176.4M364.5 172.93V176.4M372.5 172.52V176.4M380.5 172.93V176.4M387.5 173.56V176.4M395.5 172.93V176.4M403.5 175.22V176.4M410.5 175.84V176.4M418.5 175.84V176.4M426 139.03V176.4M433.5 173.56V176.4M441.5 175.01V176.4M448.5 175.01V176.4M456.5 175.84V176.4M464.5 164.3V176.4M471.5 174.18V176.4M479.5 175.22V176.4M487.5 175.01V176.4M494.5 175.01V176.4M502.5 175.22V176.4M510 175.22V176.4M517.5 160.24V176.4M525.5 165.86V176.4M533 164.3V176.4M540.5 173.56V176.4" stroke="#04300c" stroke-width="1" stroke-dasharray="0.9 1.3" stroke-opacity="0.8" fill="none"/>
<path d="M297 176.4v-1.46h1V176.4zM304 176.4v-1.56h1V176.4zM312 176.4v-4.37h1V176.4zM320 176.4v-14.14h1V176.4zM327 176.4v-1.46h1V176.4zM335 176.4v-28.29h1V176.4zM342 176.4v-2.29h2V176.4zM350 176.4v-3.12h1V176.4zM358 176.4v-2.29h1V176.4zM365 176.4v-17.47h2V176.4zM373 176.4v-6.03h1V176.4zM381 176.4v-14.14h1V176.4zM388 176.4v-15.81h1V176.4zM396 176.4v-20.07h1V176.4zM404 176.4v-1.46h1V176.4zM411 176.4v-2.7h1V176.4zM419 176.4v-2.08h1V176.4zM427 176.4v-50.34h1V176.4zM434 176.4v-4.37h1V176.4zM442 176.4v-3.95h1V176.4zM449 176.4v-19.14h2V176.4zM457 176.4v-15.18h1V176.4zM465 176.4v-43.06h1V176.4zM472 176.4v-3.74h1V176.4zM480 176.4v-21.63h1V176.4zM488 176.4v-17.47h1V176.4zM495 176.4v-8.11h1V176.4zM503 176.4v-2.29h1V176.4zM511 176.4v-7.28h1V176.4zM518 176.4v-68.64h1V176.4zM526 176.4v-29.33h1V176.4zM533 176.4v-10.61h2V176.4zM541 176.4v-15.18h1V176.4z" fill="#0c0c0c" stroke="#000" stroke-width="0.55" stroke-opacity="0.55"/>
<path d="M298 176.4v-12.27h1V176.4zM305 176.4v-52.31h1V176.4zM313 176.4v-11.44h1V176.4zM321 176.4v-12.48h1V176.4zM328 176.4v-13.52h1V176.4zM336 176.4v-8.11h1V176.4zM344 176.4v-10.09h1V176.4zM351 176.4v-11.44h1V176.4zM359 176.4v-18.72h1V176.4zM367 176.4v-4.37h1V176.4zM374 176.4v-6.45h1V176.4zM382 176.4v-4.78h1V176.4zM389 176.4v-3.95h2V176.4zM397 176.4v-4.37h1V176.4zM405 176.4v-4.78h1V176.4zM412 176.4v-3.12h1V176.4zM420 176.4v-3.95h1V176.4zM428 176.4v-4.37h1V176.4zM435 176.4v-8.11h1V176.4zM443 176.4v-11.86h1V176.4zM451 176.4v-3.12h1V176.4zM458 176.4v-4.78h1V176.4zM466 176.4v-8.94h1V176.4zM473 176.4v-8.94h2V176.4zM481 176.4v-8.11h1V176.4zM489 176.4v-8.94h1V176.4zM496 176.4v-8.94h1V176.4zM504 176.4v-8.11h1V176.4zM512 176.4v-11.44h1V176.4zM519 176.4v-6.03h1V176.4zM527 176.4v-8.94h1V176.4zM535 176.4v-9.78h1V176.4zM542 176.4v-13h1V176.4z" fill="#d6d612" stroke="#66660a" stroke-width="0.75" stroke-opacity="0.75"/>
<path d="M298.5 165.03V176.4M305.5 124.99V176.4M313.5 165.86V176.4M321.5 164.82V176.4M328.5 163.78V176.4M336.5 169.19V176.4M344.5 167.21V176.4M351.5 165.86V176.4M359.5 158.58V176.4M367.5 172.93V176.4M374.5 170.85V176.4M382.5 172.52V176.4M390 173.35V176.4M397.5 172.93V176.4M405.5 172.52V176.4M412.5 174.18V176.4M420.5 173.35V176.4M428.5 172.93V176.4M435.5 169.19V176.4M443.5 165.44V176.4M451.5 174.18V176.4M458.5 172.52V176.4M466.5 168.36V176.4M474 168.36V176.4M481.5 169.19V176.4M489.5 168.36V176.4M496.5 168.36V176.4M504.5 169.19V176.4M512.5 165.86V176.4M519.5 171.27V176.4M527.5 168.36V176.4M535.5 167.52V176.4M542.5 164.3V176.4" stroke="#3c3c00" stroke-width="1" stroke-dasharray="0.8 1.8" stroke-opacity="0.7" fill="none"/>
<path d="M299 176.4v-3.74h1V176.4zM306 176.4v-3.12h2V176.4zM314 176.4v-2.5h1V176.4zM322 176.4v-7.59h1V176.4zM329 176.4v-6.45h1V176.4zM337 176.4v-11.44h1V176.4zM345 176.4v-5.3h1V176.4zM352 176.4v-3.74h1V176.4zM360 176.4v-3.95h1V176.4zM368 176.4v-14.14h1V176.4zM375 176.4v-10.19h1V176.4zM383 176.4v-13.52h1V176.4zM391 176.4v-23.3h1V176.4zM398 176.4v-5.62h1V176.4zM406 176.4v-3.12h1V176.4zM413 176.4v-3.12h2V176.4zM421 176.4v-2.29h1V176.4zM429 176.4v-10.61h1V176.4zM436 176.4v-3.95h1V176.4zM444 176.4v-3.74h1V176.4zM452 176.4v-9.26h1V176.4zM459 176.4v-5.3h1V176.4zM467 176.4v-14.14h1V176.4zM475 176.4v-4.37h1V176.4zM482 176.4v-4.37h1V176.4zM490 176.4v-3.12h1V176.4zM497 176.4v-3.12h2V176.4zM505 176.4v-4.37h1V176.4zM513 176.4v-3.12h1V176.4zM520 176.4v-23.92h1V176.4zM528 176.4v-22.05h1V176.4zM536 176.4v-8.94h1V176.4zM543 176.4v-6.03h1V176.4z" fill="#1a8ce2" stroke="#08335e" stroke-width="0.55" stroke-opacity="0.55"/>
<path d="M300 176.4v-3.74h1V176.4zM308 176.4v-9.26h1V176.4zM315 176.4v-5.62h1V176.4zM323 176.4v-7.28h1V176.4zM330 176.4v-4.37h2V176.4zM338 176.4v-16.85h1V176.4zM346 176.4v-4.37h1V176.4zM353 176.4v-4.78h1V176.4zM361 176.4v-3.95h1V176.4zM369 176.4v-10.19h1V176.4zM376 176.4v-7.59h1V176.4zM384 176.4v-9.26h1V176.4zM392 176.4v-10.19h1V176.4zM399 176.4v-8.94h1V176.4zM407 176.4v-2.08h1V176.4zM415 176.4v-2.7h1V176.4zM422 176.4v-2.29h1V176.4zM430 176.4v-22.88h1V176.4zM437 176.4v-4.37h2V176.4zM445 176.4v-3.12h1V176.4zM453 176.4v-6.45h1V176.4zM460 176.4v-3.95h1V176.4zM468 176.4v-16.33h1V176.4zM476 176.4v-3.95h1V176.4zM483 176.4v-5.3h1V176.4zM491 176.4v-4.78h1V176.4zM499 176.4v-3.95h1V176.4zM506 176.4v-3.74h1V176.4zM514 176.4v-4.78h1V176.4zM521 176.4v-25.27h2V176.4zM529 176.4v-18.41h1V176.4zM537 176.4v-10.19h1V176.4zM544 176.4v-6.45h2V176.4z" fill="#e4142a" stroke="#55000a" stroke-width="0.5" stroke-opacity="0.5"/>
<rect x="293.65" y="99" width="252.45" height="77.4" fill="none" stroke="#626262" stroke-width="0.85"/>
<text x="290.05" y="178.55" font-size="5.75" text-anchor="end" stroke="#111" stroke-width="0.05">0</text>
<text x="290.05" y="168.15" font-size="5.75" text-anchor="end" stroke="#111" stroke-width="0.05">5</text>
<text x="290.05" y="157.75" font-size="5.75" text-anchor="end" stroke="#111" stroke-width="0.05">10</text>
<text x="290.05" y="147.35" font-size="5.75" text-anchor="end" stroke="#111" stroke-width="0.05">15</text>
<text x="290.05" y="136.95" font-size="5.75" text-anchor="end" stroke="#111" stroke-width="0.05">20</text>
<text x="290.05" y="126.55" font-size="5.75" text-anchor="end" stroke="#111" stroke-width="0.05">25</text>
<text x="290.05" y="116.15" font-size="5.75" text-anchor="end" stroke="#111" stroke-width="0.05">30</text>
<text x="290.05" y="105.75" font-size="5.75" text-anchor="end" stroke="#111" stroke-width="0.05">35</text>
<path d="M291.65 176.4H293.65M292.45 171.2H293.65M291.65 166H293.65M292.45 160.8H293.65M291.65 155.6H293.65M292.45 150.4H293.65M291.65 145.2H293.65M292.45 140H293.65M291.65 134.8H293.65M292.45 129.6H293.65M291.65 124.4H293.65M292.45 119.2H293.65M291.65 114H293.65M292.45 108.8H293.65M291.65 103.6H293.65M297.75 176.4v1.6M305.39 176.4v1.6M313.03 176.4v1.6M320.67 176.4v1.6M328.31 176.4v1.6M335.95 176.4v1.6M343.59 176.4v1.6M351.23 176.4v1.6M358.87 176.4v1.6M366.51 176.4v1.6M374.15 176.4v1.6M381.79 176.4v1.6M389.43 176.4v1.6M397.07 176.4v1.6M404.71 176.4v1.6M412.35 176.4v1.6M419.99 176.4v1.6M427.63 176.4v1.6M435.27 176.4v1.6M442.91 176.4v1.6M450.55 176.4v1.6M458.19 176.4v1.6M465.83 176.4v1.6M473.47 176.4v1.6M481.11 176.4v1.6M488.75 176.4v1.6M496.39 176.4v1.6M504.03 176.4v1.6M511.67 176.4v1.6M519.31 176.4v1.6M526.95 176.4v1.6M534.59 176.4v1.6M542.23 176.4v1.6" stroke="#626262" stroke-width="0.7" fill="none"/>
<path d="M544.7 176.4H546.1M545.26 171.2H546.1M544.7 166H546.1M545.26 160.8H546.1M544.7 155.6H546.1M545.26 150.4H546.1M544.7 145.2H546.1M545.26 140H546.1M544.7 134.8H546.1M545.26 129.6H546.1M544.7 124.4H546.1M545.26 119.2H546.1M544.7 114H546.1M545.26 108.8H546.1M544.7 103.6H546.1" stroke="#626262" stroke-width="0.6" fill="none"/>
<text x="293" y="96.6" font-size="7.65" stroke="#111" stroke-width="0.15">(d) R10mm</text>
<text transform="translate(281.3,135.7) rotate(-90)" font-size="6.7" text-anchor="middle" stroke="#111" stroke-width="0.08">Value of IVS</text>
<rect x="315.8" y="104.3" width="113.2" height="6.1" fill="#fff" stroke="#8a8a8a" stroke-width="0.5"/>
<rect x="316.7" y="105" width="9.4" height="4.7" fill="url(#lo)"/>
<text x="327.2" y="109" font-size="4.5" fill="#707070">CD</text>
<rect x="334.97" y="105" width="9.4" height="4.7" fill="url(#lg)"/>
<text x="345.47" y="109" font-size="4.5" fill="#707070">NK</text>
<rect x="353.24" y="105" width="9.4" height="4.7" fill="#000"/>
<text x="363.74" y="109" font-size="4.5" fill="#707070">NX</text>
<rect x="371.51" y="105" width="9.4" height="4.7" fill="#f2f20c"/>
<circle cx="373.08" cy="107.35" r="1.1" fill="none" stroke="#55550a" stroke-width="0.5"/>
<circle cx="376.21" cy="107.35" r="1.1" fill="none" stroke="#55550a" stroke-width="0.5"/>
<circle cx="379.34" cy="107.35" r="1.1" fill="none" stroke="#55550a" stroke-width="0.5"/>
<text x="382.01" y="109" font-size="4.5" fill="#707070">SX</text>
<rect x="389.78" y="105" width="9.4" height="4.7" fill="#1e90f0"/>
<text x="400.28" y="109" font-size="4.5" fill="#707070">TM</text>
<rect x="408.05" y="105" width="9.4" height="4.7" fill="#f01010"/>
<text x="418.55" y="109" font-size="4.5" fill="#707070">ACA</text>
</g>
<g>
<path d="M21.15 257.38H273.65M21.15 249.96H273.65M21.15 242.54H273.65M21.15 235.12H273.65M21.15 227.7H273.65M21.15 220.28H273.65M21.15 212.86H273.65M21.15 205.44H273.65M21.15 198.02H273.65M21.15 190.6H273.65" stroke="#e9e9e9" stroke-width="0.6" fill="none"/>
<path d="M22 264.8v-2.78h1V264.8zM29 264.8v-1.11h1V264.8zM37 264.8v-1.85h1V264.8zM45 264.8v-0.74h1V264.8zM52 264.8v-0.74h1V264.8zM60 264.8v-5.19h1V264.8zM68 264.8v-0.74h1V264.8zM75 264.8v-1.11h1V264.8zM83 264.8v-0.74h1V264.8zM90 264.8v-0.74h2V264.8zM98 264.8v-1.11h1V264.8zM106 264.8v-1.11h1V264.8zM113 264.8v-1.11h1V264.8zM121 264.8v-1.11h1V264.8zM129 264.8v-0.74h1V264.8zM136 264.8v-0.74h1V264.8zM144 264.8v-0.74h1V264.8zM152 264.8v-4.45h1V264.8zM159 264.8v-1.11h1V264.8zM167 264.8v-1.11h1V264.8zM174 264.8v-1.11h2V264.8zM182 264.8v-1.11h1V264.8zM190 264.8v-3.6h1V264.8zM197 264.8v-0.74h1V264.8zM205 264.8v-1.11h1V264.8zM213 264.8v-1.11h1V264.8zM220 264.8v-1.11h1V264.8zM228 264.8v-1.48h1V264.8zM236 264.8v-1.11h1V264.8zM243 264.8v-4.82h1V264.8zM251 264.8v-1.11h1V264.8zM259 264.8v-1.11h1V264.8zM266 264.8v-1.11h1V264.8z" fill="#e07a1c" stroke="#4a2200" stroke-width="0.45" stroke-opacity="0.5"/>
<path d="M22.5 262.92V264.8M37.5 263.84V264.8M60.5 260.51V264.8M152.5 261.25V264.8M190.5 262.1V264.8M228.5 264.22V264.8M243.5 260.88V264.8" stroke="#7a3c08" stroke-width="1" stroke-dasharray="0.7 1.5" stroke-opacity="0.55" fill="none"/>
<path d="M23 264.8v-1.48h1V264.8zM30 264.8v-1.11h1V264.8zM38 264.8v-1.85h1V264.8zM46 264.8v-1.11h1V264.8zM53 264.8v-0.74h1V264.8zM61 264.8v-2.78h1V264.8zM69 264.8v-1.11h1V264.8zM76 264.8v-1.48h1V264.8zM84 264.8v-0.74h1V264.8zM92 264.8v-1.48h1V264.8zM99 264.8v-1.48h1V264.8zM107 264.8v-1.85h1V264.8zM114 264.8v-2.78h2V264.8zM122 264.8v-1.85h1V264.8zM130 264.8v-1.48h1V264.8zM137 264.8v-1.11h1V264.8zM145 264.8v-1.11h1V264.8zM153 264.8v-3.6h1V264.8zM160 264.8v-1.85h1V264.8zM168 264.8v-1.85h1V264.8zM176 264.8v-2.41h1V264.8zM183 264.8v-1.85h1V264.8zM191 264.8v-2.78h1V264.8zM198 264.8v-1.11h2V264.8zM206 264.8v-1.85h1V264.8zM214 264.8v-1.85h1V264.8zM221 264.8v-2.78h1V264.8zM229 264.8v-3.6h1V264.8zM237 264.8v-1.48h1V264.8zM244 264.8v-2.78h1V264.8zM252 264.8v-1.85h1V264.8zM260 264.8v-1.48h1V264.8zM267 264.8v-1.85h1V264.8z" fill="#16a038" stroke="#002a08" stroke-width="0.45" stroke-opacity="0.5"/>
<path d="M23.5 264.22V264.8M38.5 263.84V264.8M61.5 262.92V264.8M76.5 264.22V264.8M92.5 264.22V264.8M99.5 264.22V264.8M107.5 263.84V264.8M115 262.92V264.8M122.5 263.84V264.8M130.5 264.22V264.8M153.5 262.1V264.8M160.5 263.84V264.8M168.5 263.84V264.8M176.5 263.29V264.8M183.5 263.84V264.8M191.5 262.92V264.8M206.5 263.84V264.8M214.5 263.84V264.8M221.5 262.92V264.8M229.5 262.1V264.8M237.5 264.22V264.8M244.5 262.92V264.8M252.5 263.84V264.8M260.5 264.22V264.8M267.5 263.84V264.8" stroke="#04300c" stroke-width="1" stroke-dasharray="0.9 1.3" stroke-opacity="0.8" fill="none"/>
<path d="M24 264.8v-3.15h1V264.8zM31 264.8v-1.48h2V264.8zM39 264.8v-4.82h1V264.8zM47 264.8v-1.85h1V264.8zM54 264.8v-1.11h2V264.8zM62 264.8v-5.75h1V264.8zM70 264.8v-1.48h1V264.8zM77 264.8v-4.82h1V264.8zM85 264.8v-1.11h1V264.8zM93 264.8v-7.98h1V264.8zM100 264.8v-3.6h1V264.8zM108 264.8v-9.28h1V264.8zM116 264.8v-4.82h1V264.8zM123 264.8v-13.91h1V264.8zM131 264.8v-2.41h1V264.8zM138 264.8v-1.11h2V264.8zM146 264.8v-1.48h1V264.8zM154 264.8v-21.89h1V264.8zM161 264.8v-1.85h1V264.8zM169 264.8v-4.45h1V264.8zM177 264.8v-7.61h1V264.8zM184 264.8v-3.15h1V264.8zM192 264.8v-7.42h1V264.8zM200 264.8v-1.11h1V264.8zM207 264.8v-5.75h1V264.8zM215 264.8v-7.98h1V264.8zM222 264.8v-3.15h2V264.8zM230 264.8v-2.41h1V264.8zM238 264.8v-2.41h1V264.8zM245 264.8v-1.85h2V264.8zM253 264.8v-3.15h1V264.8zM261 264.8v-1.11h1V264.8zM268 264.8v-4.82h1V264.8z" fill="#0c0c0c" stroke="#000" stroke-width="0.55" stroke-opacity="0.55"/>
<path d="M25 264.8v-15.58h1V264.8zM33 264.8v-69.75h1V264.8zM40 264.8v-15.03h1V264.8zM48 264.8v-22.82h1V264.8zM56 264.8v-16.14h1V264.8zM63 264.8v-13.91h1V264.8zM71 264.8v-12.98h1V264.8zM78 264.8v-13.36h2V264.8zM86 264.8v-17.99h1V264.8zM94 264.8v-11.87h1V264.8zM101 264.8v-8.53h1V264.8zM109 264.8v-12.61h1V264.8zM117 264.8v-8.9h1V264.8zM124 264.8v-7.79h1V264.8zM132 264.8v-8.53h1V264.8zM140 264.8v-5.75h1V264.8zM147 264.8v-4.82h1V264.8zM155 264.8v-7.98h1V264.8zM162 264.8v-12.61h2V264.8zM170 264.8v-15.58h1V264.8zM178 264.8v-7.61h1V264.8zM185 264.8v-5.19h1V264.8zM193 264.8v-3.6h1V264.8zM201 264.8v-10.2h1V264.8zM208 264.8v-11.87h1V264.8zM216 264.8v-11.87h1V264.8zM224 264.8v-11.87h1V264.8zM231 264.8v-12.24h1V264.8zM239 264.8v-13.91h1V264.8zM247 264.8v-13.36h1V264.8zM254 264.8v-12.61h1V264.8zM262 264.8v-12.61h1V264.8zM269 264.8v-14.73h2V264.8z" fill="#d6d612" stroke="#66660a" stroke-width="0.75" stroke-opacity="0.75"/>
<path d="M25.5 250.12V264.8M33.5 195.95V264.8M40.5 250.67V264.8M48.5 242.88V264.8M56.5 249.56V264.8M63.5 251.79V264.8M71.5 252.72V264.8M79 252.34V264.8M86.5 247.71V264.8M94.5 253.83V264.8M101.5 257.17V264.8M109.5 253.09V264.8M117.5 256.8V264.8M124.5 257.91V264.8M132.5 257.17V264.8M140.5 259.95V264.8M147.5 260.88V264.8M155.5 257.72V264.8M163 253.09V264.8M170.5 250.12V264.8M178.5 258.09V264.8M185.5 260.51V264.8M193.5 262.1V264.8M201.5 255.5V264.8M208.5 253.83V264.8M216.5 253.83V264.8M224.5 253.83V264.8M231.5 253.46V264.8M239.5 251.79V264.8M247.5 252.34V264.8M254.5 253.09V264.8M262.5 253.09V264.8M270 250.97V264.8" stroke="#3c3c00" stroke-width="1" stroke-dasharray="0.8 1.8" stroke-opacity="0.7" fill="none"/>
<path d="M26 264.8v-3.6h1V264.8zM34 264.8v-4.45h1V264.8zM41 264.8v-2.41h1V264.8zM49 264.8v-4.82h1V264.8zM57 264.8v-4.45h1V264.8zM64 264.8v-4.82h1V264.8zM72 264.8v-1.11h1V264.8zM80 264.8v-4.08h1V264.8zM87 264.8v-0.74h1V264.8zM95 264.8v-4.82h1V264.8zM102 264.8v-4.08h2V264.8zM110 264.8v-4.45h1V264.8zM118 264.8v-4.08h1V264.8zM125 264.8v-4.08h1V264.8zM133 264.8v-3.15h1V264.8zM141 264.8v-1.85h1V264.8zM148 264.8v-2.41h1V264.8zM156 264.8v-4.82h1V264.8zM164 264.8v-4.08h1V264.8zM171 264.8v-3.6h1V264.8zM179 264.8v-6.12h1V264.8zM186 264.8v-3.6h2V264.8zM194 264.8v-3.6h1V264.8zM202 264.8v-1.85h1V264.8zM209 264.8v-3.6h1V264.8zM217 264.8v-3.6h1V264.8zM225 264.8v-3.15h1V264.8zM232 264.8v-3.6h1V264.8zM240 264.8v-3.15h1V264.8zM248 264.8v-6.31h1V264.8zM255 264.8v-4.45h1V264.8zM263 264.8v-2.41h1V264.8zM271 264.8v-3.15h1V264.8z" fill="#1a8ce2" stroke="#08335e" stroke-width="0.55" stroke-opacity="0.55"/>
<path d="M27 264.8v-4.08h1V264.8zM35 264.8v-12.98h1V264.8zM42 264.8v-4.08h1V264.8zM50 264.8v-5.19h1V264.8zM58 264.8v-4.08h1V264.8zM65 264.8v-4.45h1V264.8zM73 264.8v-3.6h1V264.8zM81 264.8v-3.6h1V264.8zM88 264.8v-3.6h1V264.8zM96 264.8v-3.6h1V264.8zM104 264.8v-2.78h1V264.8zM111 264.8v-4.45h1V264.8zM119 264.8v-3.15h1V264.8zM126 264.8v-3.6h2V264.8zM134 264.8v-3.15h1V264.8zM142 264.8v-1.85h1V264.8zM149 264.8v-1.85h1V264.8zM157 264.8v-6.86h1V264.8zM165 264.8v-3.6h1V264.8zM172 264.8v-3.6h1V264.8zM180 264.8v-3.6h1V264.8zM188 264.8v-2.78h1V264.8zM195 264.8v-2.78h1V264.8zM203 264.8v-2.41h1V264.8zM210 264.8v-3.15h2V264.8zM218 264.8v-3.6h1V264.8zM226 264.8v-3.15h1V264.8zM233 264.8v-4.45h1V264.8zM241 264.8v-3.6h1V264.8zM249 264.8v-4.45h1V264.8zM256 264.8v-3.6h1V264.8zM264 264.8v-3.6h1V264.8zM272 264.8v-3.6h1V264.8z" fill="#e4142a" stroke="#55000a" stroke-width="0.5" stroke-opacity="0.5"/>
<rect x="21.15" y="187.7" width="252.5" height="77.1" fill="none" stroke="#626262" stroke-width="0.85"/>
<text x="17.55" y="266.95" font-size="5.75" text-anchor="end" stroke="#111" stroke-width="0.05">0</text>
<text x="17.55" y="259.53" font-size="5.75" text-anchor="end" stroke="#111" stroke-width="0.05">2</text>
<text x="17.55" y="252.11" font-size="5.75" text-anchor="end" stroke="#111" stroke-width="0.05">4</text>
<text x="17.55" y="244.69" font-size="5.75" text-anchor="end" stroke="#111" stroke-width="0.05">6</text>
<text x="17.55" y="237.27" font-size="5.75" text-anchor="end" stroke="#111" stroke-width="0.05">8</text>
<text x="17.55" y="229.85" font-size="5.75" text-anchor="end" stroke="#111" stroke-width="0.05">10</text>
<text x="17.55" y="222.43" font-size="5.75" text-anchor="end" stroke="#111" stroke-width="0.05">12</text>
<text x="17.55" y="215.01" font-size="5.75" text-anchor="end" stroke="#111" stroke-width="0.05">14</text>
<text x="17.55" y="207.59" font-size="5.75" text-anchor="end" stroke="#111" stroke-width="0.05">16</text>
<text x="17.55" y="200.17" font-size="5.75" text-anchor="end" stroke="#111" stroke-width="0.05">18</text>
<text x="17.55" y="192.75" font-size="5.75" text-anchor="end" stroke="#111" stroke-width="0.05">20</text>
<path d="M19.15 264.8H21.15M19.95 261.09H21.15M19.15 257.38H21.15M19.95 253.67H21.15M19.15 249.96H21.15M19.95 246.25H21.15M19.15 242.54H21.15M19.95 238.83H21.15M19.15 235.12H21.15M19.95 231.41H21.15M19.15 227.7H21.15M19.95 223.99H21.15M19.15 220.28H21.15M19.95 216.57H21.15M19.15 212.86H21.15M19.95 209.15H21.15M19.15 205.44H21.15M19.95 201.73H21.15M19.15 198.02H21.15M19.95 194.31H21.15M19.15 190.6H21.15M24.95 264.8v1.6M32.59 264.8v1.6M40.23 264.8v1.6M47.87 264.8v1.6M55.51 264.8v1.6M63.15 264.8v1.6M70.79 264.8v1.6M78.43 264.8v1.6M86.07 264.8v1.6M93.71 264.8v1.6M101.35 264.8v1.6M108.99 264.8v1.6M116.63 264.8v1.6M124.27 264.8v1.6M131.91 264.8v1.6M139.55 264.8v1.6M147.19 264.8v1.6M154.83 264.8v1.6M162.47 264.8v1.6M170.11 264.8v1.6M177.75 264.8v1.6M185.39 264.8v1.6M193.03 264.8v1.6M200.67 264.8v1.6M208.31 264.8v1.6M215.95 264.8v1.6M223.59 264.8v1.6M231.23 264.8v1.6M238.87 264.8v1.6M246.51 264.8v1.6M254.15 264.8v1.6M261.79 264.8v1.6M269.43 264.8v1.6" stroke="#626262" stroke-width="0.7" fill="none"/>
<path d="M272.25 264.8H273.65M272.81 261.09H273.65M272.25 257.38H273.65M272.81 253.67H273.65M272.25 249.96H273.65M272.81 246.25H273.65M272.25 242.54H273.65M272.81 238.83H273.65M272.25 235.12H273.65M272.81 231.41H273.65M272.25 227.7H273.65M272.81 223.99H273.65M272.25 220.28H273.65M272.81 216.57H273.65M272.25 212.86H273.65M272.81 209.15H273.65M272.25 205.44H273.65M272.81 201.73H273.65M272.25 198.02H273.65M272.81 194.31H273.65M272.25 190.6H273.65" stroke="#626262" stroke-width="0.6" fill="none"/>
<text x="20.25" y="186.0" font-size="7.65" stroke="#111" stroke-width="0.15">(e) R95pTOT</text>
<text transform="translate(9.0,224.2) rotate(-90)" font-size="6.7" text-anchor="middle" stroke="#111" stroke-width="0.08">Value of IVS</text>
<rect x="43.0" y="192.9" width="113.2" height="6.1" fill="#fff" stroke="#8a8a8a" stroke-width="0.5"/>
<rect x="43.9" y="193.6" width="9.4" height="4.7" fill="url(#lo)"/>
<text x="54.4" y="197.6" font-size="4.5" fill="#707070">CD</text>
<rect x="62.17" y="193.6" width="9.4" height="4.7" fill="url(#lg)"/>
<text x="72.67" y="197.6" font-size="4.5" fill="#707070">NK</text>
<rect x="80.44" y="193.6" width="9.4" height="4.7" fill="#000"/>
<text x="90.94" y="197.6" font-size="4.5" fill="#707070">NX</text>
<rect x="98.71" y="193.6" width="9.4" height="4.7" fill="#f2f20c"/>
<circle cx="100.28" cy="195.95" r="1.1" fill="none" stroke="#55550a" stroke-width="0.5"/>
<circle cx="103.41" cy="195.95" r="1.1" fill="none" stroke="#55550a" stroke-width="0.5"/>
<circle cx="106.54" cy="195.95" r="1.1" fill="none" stroke="#55550a" stroke-width="0.5"/>
<text x="109.21" y="197.6" font-size="4.5" fill="#707070">SX</text>
<rect x="116.98" y="193.6" width="9.4" height="4.7" fill="#1e90f0"/>
<text x="127.48" y="197.6" font-size="4.5" fill="#707070">TM</text>
<rect x="135.25" y="193.6" width="9.4" height="4.7" fill="#f01010"/>
<text x="145.75" y="197.6" font-size="4.5" fill="#707070">ACA</text>
</g>
<g>
<path d="M292.8 253.8H545.3M292.8 242.8H545.3M292.8 231.8H545.3M292.8 220.8H545.3M292.8 209.8H545.3M292.8 198.8H545.3" stroke="#e9e9e9" stroke-width="0.6" fill="none"/>
<path d="M294 264.8v-3.3h1V264.8zM301 264.8v-2.2h1V264.8zM309 264.8v-5.78h1V264.8zM316 264.8v-16.34h2V264.8zM324 264.8v-7.7h1V264.8zM332 264.8v-29.15h1V264.8zM339 264.8v-7.7h1V264.8zM347 264.8v-3.3h1V264.8zM355 264.8v-7.15h1V264.8zM362 264.8v-9.07h1V264.8zM370 264.8v-5.22h1V264.8zM378 264.8v-6.05h1V264.8zM385 264.8v-6.05h1V264.8zM393 264.8v-9.07h1V264.8zM400 264.8v-3.3h2V264.8zM408 264.8v-5.78h1V264.8zM416 264.8v-6.05h1V264.8zM423 264.8v-14.3h1V264.8zM431 264.8v-5.78h1V264.8zM439 264.8v-3.3h1V264.8zM446 264.8v-6.6h1V264.8zM454 264.8v-8.53h1V264.8zM462 264.8v-17.6h1V264.8zM469 264.8v-6.6h1V264.8zM477 264.8v-5.22h1V264.8zM485 264.8v-3.3h1V264.8zM492 264.8v-5.22h1V264.8zM500 264.8v-2.75h1V264.8zM507 264.8v-5.22h2V264.8zM515 264.8v-26.67h1V264.8zM523 264.8v-31.9h1V264.8zM530 264.8v-20.9h1V264.8zM538 264.8v-8.53h1V264.8z" fill="#e07a1c" stroke="#4a2200" stroke-width="0.45" stroke-opacity="0.5"/>
<path d="M294.5 262.4V264.8M301.5 263.5V264.8M309.5 259.93V264.8M317 249.37V264.8M324.5 258V264.8M332.5 236.55V264.8M339.5 258V264.8M347.5 262.4V264.8M355.5 258.55V264.8M362.5 256.62V264.8M370.5 260.47V264.8M378.5 259.65V264.8M385.5 259.65V264.8M393.5 256.62V264.8M401 262.4V264.8M408.5 259.93V264.8M416.5 259.65V264.8M423.5 251.4V264.8M431.5 259.93V264.8M439.5 262.4V264.8M446.5 259.1V264.8M454.5 257.18V264.8M462.5 248.1V264.8M469.5 259.1V264.8M477.5 260.47V264.8M485.5 262.4V264.8M492.5 260.47V264.8M500.5 262.95V264.8M508 260.47V264.8M515.5 239.03V264.8M523.5 233.8V264.8M530.5 244.8V264.8M538.5 257.18V264.8" stroke="#7a3c08" stroke-width="1" stroke-dasharray="0.7 1.5" stroke-opacity="0.55" fill="none"/>
<path d="M295 264.8v-3.3h1V264.8zM302 264.8v-4.24h1V264.8zM310 264.8v-9.07h1V264.8zM318 264.8v-21.84h1V264.8zM325 264.8v-10.45h1V264.8zM333 264.8v-40.42h1V264.8zM340 264.8v-10.45h2V264.8zM348 264.8v-5.78h1V264.8zM356 264.8v-8.53h1V264.8zM363 264.8v-11h1V264.8zM371 264.8v-12.1h1V264.8zM379 264.8v-10.45h1V264.8zM386 264.8v-10.45h1V264.8zM394 264.8v-12.38h1V264.8zM402 264.8v-8.25h1V264.8zM409 264.8v-7.7h1V264.8zM417 264.8v-8.53h1V264.8zM424 264.8v-27.77h2V264.8zM432 264.8v-3.85h1V264.8zM440 264.8v-3.3h1V264.8zM447 264.8v-6.05h2V264.8zM455 264.8v-5.78h1V264.8zM463 264.8v-29.7h1V264.8zM470 264.8v-13.2h1V264.8zM478 264.8v-8.53h1V264.8zM486 264.8v-6.05h1V264.8zM493 264.8v-10.45h1V264.8zM501 264.8v-5.78h1V264.8zM509 264.8v-7.7h1V264.8zM516 264.8v-43.45h1V264.8zM524 264.8v-36.58h1V264.8zM531 264.8v-24.2h2V264.8zM539 264.8v-6.05h1V264.8z" fill="#16a038" stroke="#002a08" stroke-width="0.45" stroke-opacity="0.5"/>
<path d="M295.5 262.4V264.8M302.5 261.46V264.8M310.5 256.62V264.8M318.5 243.87V264.8M325.5 255.25V264.8M333.5 225.28V264.8M341 255.25V264.8M348.5 259.93V264.8M356.5 257.18V264.8M363.5 254.7V264.8M371.5 253.6V264.8M379.5 255.25V264.8M386.5 255.25V264.8M394.5 253.33V264.8M402.5 257.45V264.8M409.5 258V264.8M417.5 257.18V264.8M425 237.93V264.8M432.5 261.85V264.8M440.5 262.4V264.8M448 259.65V264.8M455.5 259.93V264.8M463.5 236V264.8M470.5 252.5V264.8M478.5 257.18V264.8M486.5 259.65V264.8M493.5 255.25V264.8M501.5 259.93V264.8M509.5 258V264.8M516.5 222.25V264.8M524.5 229.13V264.8M532 241.5V264.8M539.5 259.65V264.8" stroke="#04300c" stroke-width="1" stroke-dasharray="0.9 1.3" stroke-opacity="0.8" fill="none"/>
<path d="M296 264.8v-13.75h1V264.8zM303 264.8v-7.7h1V264.8zM311 264.8v-11h1V264.8zM319 264.8v-20.9h1V264.8zM326 264.8v-10.18h1V264.8zM334 264.8v-34.1h1V264.8zM342 264.8v-11.55h1V264.8zM349 264.8v-14.3h1V264.8zM357 264.8v-15.95h1V264.8zM364 264.8v-35.48h2V264.8zM372 264.8v-26.12h1V264.8zM380 264.8v-46.2h1V264.8zM387 264.8v-34.1h1V264.8zM395 264.8v-43.45h1V264.8zM403 264.8v-7.7h1V264.8zM410 264.8v-14.3h1V264.8zM418 264.8v-7.7h1V264.8zM426 264.8v-62.7h1V264.8zM433 264.8v-4.24h1V264.8zM441 264.8v-3.3h1V264.8zM449 264.8v-25.85h1V264.8zM456 264.8v-16.34h1V264.8zM464 264.8v-39.6h1V264.8zM471 264.8v-17.6h2V264.8zM479 264.8v-22.27h1V264.8zM487 264.8v-26.67h1V264.8zM494 264.8v-14.02h1V264.8zM502 264.8v-11h1V264.8zM510 264.8v-18.15h1V264.8zM517 264.8v-55.55h1V264.8zM525 264.8v-40.98h1V264.8zM533 264.8v-23.38h1V264.8zM540 264.8v-25.85h1V264.8z" fill="#0c0c0c" stroke="#000" stroke-width="0.55" stroke-opacity="0.55"/>
<path d="M297 264.8v-7.7h1V264.8zM304 264.8v-9.07h2V264.8zM312 264.8v-10.18h1V264.8zM320 264.8v-5.78h1V264.8zM327 264.8v-9.07h1V264.8zM335 264.8v-29.7h1V264.8zM343 264.8v-6.6h1V264.8zM350 264.8v-17.05h1V264.8zM358 264.8v-13.75h1V264.8zM366 264.8v-45.65h1V264.8zM373 264.8v-40.42h1V264.8zM381 264.8v-34.1h1V264.8zM388 264.8v-43.45h2V264.8zM396 264.8v-42.35h1V264.8zM404 264.8v-8.25h1V264.8zM411 264.8v-8.25h1V264.8zM419 264.8v-7.7h1V264.8zM427 264.8v-66.83h1V264.8zM434 264.8v-13.2h1V264.8zM442 264.8v-12.38h1V264.8zM450 264.8v-42.35h1V264.8zM457 264.8v-33.55h1V264.8zM465 264.8v-30.8h1V264.8zM473 264.8v-18.15h1V264.8zM480 264.8v-16.34h1V264.8zM488 264.8v-21.84h1V264.8zM495 264.8v-18.98h2V264.8zM503 264.8v-13.2h1V264.8zM511 264.8v-12.1h1V264.8zM518 264.8v-28.6h1V264.8zM526 264.8v-29.7h1V264.8zM534 264.8v-19.8h1V264.8zM541 264.8v-14.85h1V264.8z" fill="#d6d612" stroke="#66660a" stroke-width="0.75" stroke-opacity="0.75"/>
<path d="M297.5 258V264.8M305 256.62V264.8M312.5 255.53V264.8M320.5 259.93V264.8M327.5 256.62V264.8M335.5 236V264.8M343.5 259.1V264.8M350.5 248.65V264.8M358.5 251.95V264.8M366.5 220.05V264.8M373.5 225.28V264.8M381.5 231.6V264.8M389 222.25V264.8M396.5 223.35V264.8M404.5 257.45V264.8M411.5 257.45V264.8M419.5 258V264.8M427.5 198.88V264.8M434.5 252.5V264.8M442.5 253.33V264.8M450.5 223.35V264.8M457.5 232.15V264.8M465.5 234.9V264.8M473.5 247.55V264.8M480.5 249.37V264.8M488.5 243.87V264.8M496 246.73V264.8M503.5 252.5V264.8M511.5 253.6V264.8M518.5 237.1V264.8M526.5 236V264.8M534.5 245.9V264.8M541.5 250.85V264.8" stroke="#3c3c00" stroke-width="1" stroke-dasharray="0.8 1.8" stroke-opacity="0.7" fill="none"/>
<path d="M298 264.8v-13.75h1V264.8zM306 264.8v-17.05h1V264.8zM313 264.8v-12.38h1V264.8zM321 264.8v-59.4h1V264.8zM328 264.8v-9.07h2V264.8zM336 264.8v-28.05h1V264.8zM344 264.8v-9.07h1V264.8zM351 264.8v-6.6h1V264.8zM359 264.8v-9.07h1V264.8zM367 264.8v-35.2h1V264.8zM374 264.8v-25.85h1V264.8zM382 264.8v-28.6h1V264.8zM390 264.8v-29.98h1V264.8zM397 264.8v-48.95h1V264.8zM405 264.8v-6.6h1V264.8zM412 264.8v-15.68h2V264.8zM420 264.8v-8.25h1V264.8zM428 264.8v-37.4h1V264.8zM435 264.8v-14.85h1V264.8zM443 264.8v-15.68h1V264.8zM451 264.8v-16.34h1V264.8zM458 264.8v-12.38h1V264.8zM466 264.8v-41.25h1V264.8zM474 264.8v-24.2h1V264.8zM481 264.8v-21.84h1V264.8zM489 264.8v-12.1h1V264.8zM497 264.8v-13.2h1V264.8zM504 264.8v-10.45h1V264.8zM512 264.8v-13.75h1V264.8zM519 264.8v-44.28h2V264.8zM527 264.8v-46.75h1V264.8zM535 264.8v-19.8h1V264.8zM542 264.8v-4.24h1V264.8z" fill="#1a8ce2" stroke="#08335e" stroke-width="0.55" stroke-opacity="0.55"/>
<path d="M299 264.8v-6.6h1V264.8zM307 264.8v-6.6h1V264.8zM314 264.8v-9.07h1V264.8zM322 264.8v-24.75h1V264.8zM330 264.8v-8.53h1V264.8zM337 264.8v-31.62h1V264.8zM345 264.8v-8.53h1V264.8zM352 264.8v-7.15h2V264.8zM360 264.8v-8.53h1V264.8zM368 264.8v-19.8h1V264.8zM375 264.8v-17.05h1V264.8zM383 264.8v-17.6h1V264.8zM391 264.8v-17.6h1V264.8zM398 264.8v-21.84h1V264.8zM406 264.8v-6.6h1V264.8zM414 264.8v-8.53h1V264.8zM421 264.8v-6.6h1V264.8zM429 264.8v-32.45h1V264.8zM436 264.8v-7.7h2V264.8zM444 264.8v-6.6h1V264.8zM452 264.8v-13.75h1V264.8zM459 264.8v-13.2h2V264.8zM467 264.8v-27.33h1V264.8zM475 264.8v-13.75h1V264.8zM482 264.8v-11.55h1V264.8zM490 264.8v-10.18h1V264.8zM498 264.8v-10.45h1V264.8zM505 264.8v-6.6h1V264.8zM513 264.8v-9.07h1V264.8zM521 264.8v-35.48h1V264.8zM528 264.8v-34.65h1V264.8zM536 264.8v-20.9h1V264.8zM543 264.8v-11.55h2V264.8z" fill="#e4142a" stroke="#55000a" stroke-width="0.5" stroke-opacity="0.5"/>
<rect x="292.8" y="187.6" width="252.5" height="77.2" fill="none" stroke="#626262" stroke-width="0.85"/>
<text x="289.2" y="266.95" font-size="5.75" text-anchor="end" stroke="#111" stroke-width="0.05">0</text>
<text x="289.2" y="255.95" font-size="5.75" text-anchor="end" stroke="#111" stroke-width="0.05">2</text>
<text x="289.2" y="244.95" font-size="5.75" text-anchor="end" stroke="#111" stroke-width="0.05">4</text>
<text x="289.2" y="233.95" font-size="5.75" text-anchor="end" stroke="#111" stroke-width="0.05">6</text>
<text x="289.2" y="222.95" font-size="5.75" text-anchor="end" stroke="#111" stroke-width="0.05">8</text>
<text x="289.2" y="211.95" font-size="5.75" text-anchor="end" stroke="#111" stroke-width="0.05">10</text>
<text x="289.2" y="200.95" font-size="5.75" text-anchor="end" stroke="#111" stroke-width="0.05">12</text>
<text x="289.2" y="189.95" font-size="5.75" text-anchor="end" stroke="#111" stroke-width="0.05">14</text>
<path d="M290.8 264.8H292.8M291.6 259.3H292.8M290.8 253.8H292.8M291.6 248.3H292.8M290.8 242.8H292.8M291.6 237.3H292.8M290.8 231.8H292.8M291.6 226.3H292.8M290.8 220.8H292.8M291.6 215.3H292.8M290.8 209.8H292.8M291.6 204.3H292.8M290.8 198.8H292.8M291.6 193.3H292.8M290.8 187.8H292.8M296.8 264.8v1.6M304.44 264.8v1.6M312.08 264.8v1.6M319.72 264.8v1.6M327.36 264.8v1.6M335 264.8v1.6M342.64 264.8v1.6M350.28 264.8v1.6M357.92 264.8v1.6M365.56 264.8v1.6M373.2 264.8v1.6M380.84 264.8v1.6M388.48 264.8v1.6M396.12 264.8v1.6M403.76 264.8v1.6M411.4 264.8v1.6M419.04 264.8v1.6M426.68 264.8v1.6M434.32 264.8v1.6M441.96 264.8v1.6M449.6 264.8v1.6M457.24 264.8v1.6M464.88 264.8v1.6M472.52 264.8v1.6M480.16 264.8v1.6M487.8 264.8v1.6M495.44 264.8v1.6M503.08 264.8v1.6M510.72 264.8v1.6M518.36 264.8v1.6M526 264.8v1.6M533.64 264.8v1.6M541.28 264.8v1.6" stroke="#626262" stroke-width="0.7" fill="none"/>
<path d="M543.9 264.8H545.3M544.46 259.3H545.3M543.9 253.8H545.3M544.46 248.3H545.3M543.9 242.8H545.3M544.46 237.3H545.3M543.9 231.8H545.3M544.46 226.3H545.3M543.9 220.8H545.3M544.46 215.3H545.3M543.9 209.8H545.3M544.46 204.3H545.3M543.9 198.8H545.3M544.46 193.3H545.3M543.9 187.8H545.3" stroke="#626262" stroke-width="0.6" fill="none"/>
<text x="292.3" y="186.1" font-size="7.65" stroke="#111" stroke-width="0.15">(f) Rx1day</text>
<text transform="translate(281.3,224.2) rotate(-90)" font-size="6.7" text-anchor="middle" stroke="#111" stroke-width="0.08">Value of IVS</text>
<rect x="312.3" y="191.4" width="113.2" height="6.1" fill="#fff" stroke="#8a8a8a" stroke-width="0.5"/>
<rect x="313.2" y="192.1" width="9.4" height="4.7" fill="url(#lo)"/>
<text x="323.7" y="196.1" font-size="4.5" fill="#707070">CD</text>
<rect x="331.47" y="192.1" width="9.4" height="4.7" fill="url(#lg)"/>
<text x="341.97" y="196.1" font-size="4.5" fill="#707070">NK</text>
<rect x="349.74" y="192.1" width="9.4" height="4.7" fill="#000"/>
<text x="360.24" y="196.1" font-size="4.5" fill="#707070">NX</text>
<rect x="368.01" y="192.1" width="9.4" height="4.7" fill="#f2f20c"/>
<circle cx="369.58" cy="194.45" r="1.1" fill="none" stroke="#55550a" stroke-width="0.5"/>
<circle cx="372.71" cy="194.45" r="1.1" fill="none" stroke="#55550a" stroke-width="0.5"/>
<circle cx="375.84" cy="194.45" r="1.1" fill="none" stroke="#55550a" stroke-width="0.5"/>
<text x="378.51" y="196.1" font-size="4.5" fill="#707070">SX</text>
<rect x="386.28" y="192.1" width="9.4" height="4.7" fill="#1e90f0"/>
<text x="396.78" y="196.1" font-size="4.5" fill="#707070">TM</text>
<rect x="404.55" y="192.1" width="9.4" height="4.7" fill="#f01010"/>
<text x="415.05" y="196.1" font-size="4.5" fill="#707070">ACA</text>
</g>
<g>
<path d="M21.15 341.3H273.65M21.15 328.3H273.65M21.15 315.3H273.65M21.15 302.3H273.65M21.15 289.3H273.65" stroke="#e9e9e9" stroke-width="0.6" fill="none"/>
<path d="M22 354.3v-2.6h1V354.3zM29 354.3v-2.6h1V354.3zM37 354.3v-2.6h1V354.3zM45 354.3v-5.07h1V354.3zM52 354.3v-6.7h1V354.3zM60 354.3v-16.57h1V354.3zM68 354.3v-7.8h1V354.3zM75 354.3v-1.62h1V354.3zM83 354.3v-5.07h1V354.3zM90 354.3v-5.07h2V354.3zM98 354.3v-4.23h1V354.3zM106 354.3v-2.93h1V354.3zM113 354.3v-3.25h1V354.3zM121 354.3v-5.59h1V354.3zM129 354.3v-2.93h1V354.3zM136 354.3v-2.6h1V354.3zM144 354.3v-2.6h1V354.3zM152 354.3v-5.85h1V354.3zM159 354.3v-5.85h1V354.3zM167 354.3v-2.6h1V354.3zM174 354.3v-5.59h2V354.3zM182 354.3v-7.15h1V354.3zM190 354.3v-12.8h1V354.3zM197 354.3v-4.55h1V354.3zM205 354.3v-1.95h1V354.3zM213 354.3v-1.62h1V354.3zM220 354.3v-3.25h1V354.3zM228 354.3v-2.6h1V354.3zM236 354.3v-2.6h1V354.3zM243 354.3v-19.3h1V354.3zM251 354.3v-17.55h1V354.3zM259 354.3v-13.32h1V354.3zM266 354.3v-6.7h1V354.3z" fill="#e07a1c" stroke="#4a2200" stroke-width="0.45" stroke-opacity="0.5"/>
<path d="M22.5 352.6V354.3M29.5 352.6V354.3M37.5 352.6V354.3M45.5 350.13V354.3M52.5 348.5V354.3M60.5 338.62V354.3M68.5 347.4V354.3M75.5 353.57V354.3M83.5 350.13V354.3M91 350.13V354.3M98.5 350.97V354.3M106.5 352.27V354.3M113.5 351.95V354.3M121.5 349.61V354.3M129.5 352.27V354.3M136.5 352.6V354.3M144.5 352.6V354.3M152.5 349.35V354.3M159.5 349.35V354.3M167.5 352.6V354.3M175 349.61V354.3M182.5 348.05V354.3M190.5 342.39V354.3M197.5 350.65V354.3M205.5 353.25V354.3M213.5 353.57V354.3M220.5 351.95V354.3M228.5 352.6V354.3M236.5 352.6V354.3M243.5 335.89V354.3M251.5 337.65V354.3M259.5 341.88V354.3M266.5 348.5V354.3" stroke="#7a3c08" stroke-width="1" stroke-dasharray="0.7 1.5" stroke-opacity="0.55" fill="none"/>
<path d="M23 354.3v-3.25h1V354.3zM30 354.3v-3.25h1V354.3zM38 354.3v-4.55h1V354.3zM46 354.3v-12.35h1V354.3zM53 354.3v-6.24h1V354.3zM61 354.3v-13.32h1V354.3zM69 354.3v-7.15h1V354.3zM76 354.3v-2.6h1V354.3zM84 354.3v-5.07h1V354.3zM92 354.3v-7.47h1V354.3zM99 354.3v-9.1h1V354.3zM107 354.3v-7.15h1V354.3zM114 354.3v-6.24h2V354.3zM122 354.3v-7.15h1V354.3zM130 354.3v-6.24h1V354.3zM137 354.3v-4.23h1V354.3zM145 354.3v-4.23h1V354.3zM153 354.3v-15.93h1V354.3zM160 354.3v-4.55h1V354.3zM168 354.3v-3.25h1V354.3zM176 354.3v-4.55h1V354.3zM183 354.3v-5.59h1V354.3zM191 354.3v-20.8h1V354.3zM198 354.3v-7.15h2V354.3zM206 354.3v-3.9h1V354.3zM214 354.3v-4.23h1V354.3zM221 354.3v-5.07h1V354.3zM229 354.3v-5.85h1V354.3zM237 354.3v-3.25h1V354.3zM244 354.3v-14.95h1V354.3zM252 354.3v-22.1h1V354.3zM260 354.3v-15.28h1V354.3zM267 354.3v-5.07h1V354.3z" fill="#16a038" stroke="#002a08" stroke-width="0.45" stroke-opacity="0.5"/>
<path d="M23.5 351.95V354.3M30.5 351.95V354.3M38.5 350.65V354.3M46.5 342.85V354.3M53.5 348.96V354.3M61.5 341.88V354.3M69.5 348.05V354.3M76.5 352.6V354.3M84.5 350.13V354.3M92.5 347.72V354.3M99.5 346.1V354.3M107.5 348.05V354.3M115 348.96V354.3M122.5 348.05V354.3M130.5 348.96V354.3M137.5 350.97V354.3M145.5 350.97V354.3M153.5 339.27V354.3M160.5 350.65V354.3M168.5 351.95V354.3M176.5 350.65V354.3M183.5 349.61V354.3M191.5 334.4V354.3M199 348.05V354.3M206.5 351.3V354.3M214.5 350.97V354.3M221.5 350.13V354.3M229.5 349.35V354.3M237.5 351.95V354.3M244.5 340.25V354.3M252.5 333.1V354.3M260.5 339.93V354.3M267.5 350.13V354.3" stroke="#04300c" stroke-width="1" stroke-dasharray="0.9 1.3" stroke-opacity="0.8" fill="none"/>
<path d="M24 354.3v-11.7h1V354.3zM31 354.3v-5.07h2V354.3zM39 354.3v-10.08h1V354.3zM47 354.3v-12.35h1V354.3zM54 354.3v-6.7h2V354.3zM62 354.3v-18.85h1V354.3zM70 354.3v-10.72h1V354.3zM77 354.3v-10.08h1V354.3zM85 354.3v-4.55h1V354.3zM93 354.3v-26.32h1V354.3zM100 354.3v-17.22h1V354.3zM108 354.3v-36.73h1V354.3zM116 354.3v-22.1h1V354.3zM123 354.3v-37.38h1V354.3zM131 354.3v-12.03h1V354.3zM138 354.3v-8.45h2V354.3zM146 354.3v-7.15h1V354.3zM154 354.3v-72.15h1V354.3zM161 354.3v-5.85h1V354.3zM169 354.3v-4.23h1V354.3zM177 354.3v-21.78h1V354.3zM184 354.3v-10.08h1V354.3zM192 354.3v-35.75h1V354.3zM200 354.3v-11.7h1V354.3zM207 354.3v-13.97h1V354.3zM215 354.3v-20.15h1V354.3zM222 354.3v-12.03h2V354.3zM230 354.3v-6.7h1V354.3zM238 354.3v-14.3h1V354.3zM245 354.3v-23.07h2V354.3zM253 354.3v-18.2h1V354.3zM261 354.3v-14.3h1V354.3zM268 354.3v-31.2h1V354.3z" fill="#0c0c0c" stroke="#000" stroke-width="0.55" stroke-opacity="0.55"/>
<path d="M25 354.3v-6.7h1V354.3zM33 354.3v-25.35h1V354.3zM40 354.3v-5.07h1V354.3zM48 354.3v-3.25h1V354.3zM56 354.3v-5.59h1V354.3zM63 354.3v-9.1h1V354.3zM71 354.3v-5.07h1V354.3zM78 354.3v-9.1h2V354.3zM86 354.3v-9.42h1V354.3zM94 354.3v-32.5h1V354.3zM101 354.3v-26.65h1V354.3zM109 354.3v-17.55h1V354.3zM117 354.3v-23.07h1V354.3zM124 354.3v-19.82h1V354.3zM132 354.3v-7.47h1V354.3zM140 354.3v-5.85h1V354.3zM147 354.3v-5.07h1V354.3zM155 354.3v-32.82h1V354.3zM162 354.3v-6.24h2V354.3zM170 354.3v-6.7h1V354.3zM178 354.3v-28.93h1V354.3zM185 354.3v-13.65h1V354.3zM193 354.3v-19.82h1V354.3zM201 354.3v-10.08h1V354.3zM208 354.3v-5.07h1V354.3zM216 354.3v-10.08h1V354.3zM224 354.3v-7.47h1V354.3zM231 354.3v-6.7h1V354.3zM239 354.3v-5.85h1V354.3zM247 354.3v-8.45h1V354.3zM254 354.3v-10.72h1V354.3zM262 354.3v-12.35h1V354.3zM269 354.3v-10.08h2V354.3z" fill="#d6d612" stroke="#66660a" stroke-width="0.75" stroke-opacity="0.75"/>
<path d="M25.5 348.5V354.3M33.5 329.85V354.3M40.5 350.13V354.3M48.5 351.95V354.3M56.5 349.61V354.3M63.5 346.1V354.3M71.5 350.13V354.3M79 346.1V354.3M86.5 345.77V354.3M94.5 322.7V354.3M101.5 328.55V354.3M109.5 337.65V354.3M117.5 332.12V354.3M124.5 335.38V354.3M132.5 347.72V354.3M140.5 349.35V354.3M147.5 350.13V354.3M155.5 322.38V354.3M163 348.96V354.3M170.5 348.5V354.3M178.5 326.27V354.3M185.5 341.55V354.3M193.5 335.38V354.3M201.5 345.12V354.3M208.5 350.13V354.3M216.5 345.12V354.3M224.5 347.72V354.3M231.5 348.5V354.3M239.5 349.35V354.3M247.5 346.75V354.3M254.5 344.47V354.3M262.5 342.85V354.3M270 345.12V354.3" stroke="#3c3c00" stroke-width="1" stroke-dasharray="0.8 1.8" stroke-opacity="0.7" fill="none"/>
<path d="M26 354.3v-10.72h1V354.3zM34 354.3v-10.08h1V354.3zM41 354.3v-5.85h1V354.3zM49 354.3v-40.95h1V354.3zM57 354.3v-5.85h1V354.3zM64 354.3v-14.95h1V354.3zM72 354.3v-5.85h1V354.3zM80 354.3v-3.25h1V354.3zM87 354.3v-7.15h1V354.3zM95 354.3v-22.1h1V354.3zM102 354.3v-15.93h2V354.3zM110 354.3v-15.28h1V354.3zM118 354.3v-16.9h1V354.3zM125 354.3v-19.82h1V354.3zM133 354.3v-5.59h1V354.3zM141 354.3v-10.08h1V354.3zM148 354.3v-5.07h1V354.3zM156 354.3v-21.78h1V354.3zM164 354.3v-9.1h1V354.3zM171 354.3v-7.8h1V354.3zM179 354.3v-8.45h1V354.3zM186 354.3v-8.45h2V354.3zM194 354.3v-18.2h1V354.3zM202 354.3v-10.72h1V354.3zM209 354.3v-7.47h1V354.3zM217 354.3v-5.85h1V354.3zM225 354.3v-9.1h1V354.3zM232 354.3v-4.55h1V354.3zM240 354.3v-6.24h1V354.3zM248 354.3v-23.07h1V354.3zM255 354.3v-13.32h1V354.3zM263 354.3v-12.8h1V354.3zM271 354.3v-9.1h1V354.3z" fill="#1a8ce2" stroke="#08335e" stroke-width="0.55" stroke-opacity="0.55"/>
<path d="M27 354.3v-5.07h1V354.3zM35 354.3v-7.8h1V354.3zM42 354.3v-4.55h1V354.3zM50 354.3v-12.8h1V354.3zM58 354.3v-5.85h1V354.3zM65 354.3v-12.8h1V354.3zM73 354.3v-6.7h1V354.3zM81 354.3v-4.23h1V354.3zM88 354.3v-5.85h1V354.3zM96 354.3v-13.65h1V354.3zM104 354.3v-11.05h1V354.3zM111 354.3v-11.05h1V354.3zM119 354.3v-10.08h1V354.3zM126 354.3v-11.7h2V354.3zM134 354.3v-5.07h1V354.3zM142 354.3v-5.07h1V354.3zM149 354.3v-4.23h1V354.3zM157 354.3v-20.15h1V354.3zM165 354.3v-5.07h1V354.3zM172 354.3v-4.55h1V354.3zM180 354.3v-9.42h1V354.3zM188 354.3v-7.15h1V354.3zM195 354.3v-18.2h1V354.3zM203 354.3v-7.15h1V354.3zM210 354.3v-4.55h2V354.3zM218 354.3v-5.07h1V354.3zM226 354.3v-5.85h1V354.3zM233 354.3v-3.25h1V354.3zM241 354.3v-5.07h1V354.3zM249 354.3v-14.95h1V354.3zM256 354.3v-15.93h1V354.3zM264 354.3v-12.8h1V354.3zM272 354.3v-8.45h1V354.3z" fill="#e4142a" stroke="#55000a" stroke-width="0.5" stroke-opacity="0.5"/>
<rect x="21.15" y="276.4" width="252.5" height="77.9" fill="none" stroke="#626262" stroke-width="0.85"/>
<text x="17.55" y="356.45" font-size="5.75" text-anchor="end" stroke="#111" stroke-width="0.05">0</text>
<text x="17.55" y="343.45" font-size="5.75" text-anchor="end" stroke="#111" stroke-width="0.05">2</text>
<text x="17.55" y="330.45" font-size="5.75" text-anchor="end" stroke="#111" stroke-width="0.05">4</text>
<text x="17.55" y="317.45" font-size="5.75" text-anchor="end" stroke="#111" stroke-width="0.05">6</text>
<text x="17.55" y="304.45" font-size="5.75" text-anchor="end" stroke="#111" stroke-width="0.05">8</text>
<text x="17.55" y="291.45" font-size="5.75" text-anchor="end" stroke="#111" stroke-width="0.05">10</text>
<text x="17.55" y="278.45" font-size="5.75" text-anchor="end" stroke="#111" stroke-width="0.05">12</text>
<text x="24.95" y="362" font-size="5.9" text-anchor="middle">A</text>
<text x="32.59" y="362" font-size="5.9" text-anchor="middle">B</text>
<text x="40.23" y="362" font-size="5.9" text-anchor="middle">C</text>
<text x="47.87" y="362" font-size="5.9" text-anchor="middle">D</text>
<text x="55.51" y="362" font-size="5.9" text-anchor="middle">E</text>
<text x="63.15" y="362" font-size="5.9" text-anchor="middle">F</text>
<text x="70.79" y="362" font-size="5.9" text-anchor="middle">G</text>
<text x="78.43" y="362" font-size="5.9" text-anchor="middle">H</text>
<text x="86.07" y="362" font-size="5.9" text-anchor="middle">I</text>
<text x="93.71" y="362" font-size="5.9" text-anchor="middle">J</text>
<text x="101.35" y="362" font-size="5.9" text-anchor="middle">K</text>
<text x="108.99" y="362" font-size="5.9" text-anchor="middle">L</text>
<text x="116.63" y="362" font-size="5.9" text-anchor="middle">M</text>
<text x="124.27" y="362" font-size="5.9" text-anchor="middle">N</text>
<text x="131.91" y="362" font-size="5.9" text-anchor="middle">O</text>
<text x="139.55" y="362" font-size="5.9" text-anchor="middle">P</text>
<text x="147.19" y="362" font-size="5.9" text-anchor="middle">Q</text>
<text x="154.83" y="362" font-size="5.9" text-anchor="middle">R</text>
<text x="162.47" y="362" font-size="5.9" text-anchor="middle">S</text>
<text x="170.11" y="362" font-size="5.9" text-anchor="middle">T</text>
<text x="177.75" y="362" font-size="5.9" text-anchor="middle">U</text>
<text x="185.39" y="362" font-size="5.9" text-anchor="middle">V</text>
<text x="193.03" y="362" font-size="5.9" text-anchor="middle">W</text>
<text x="200.67" y="362" font-size="5.9" text-anchor="middle">X</text>
<text x="208.31" y="362" font-size="5.9" text-anchor="middle">Y</text>
<text x="215.95" y="362" font-size="5.9" text-anchor="middle">Z</text>
<text x="223.59" y="362" font-size="5.9" text-anchor="middle">a</text>
<text x="231.23" y="362" font-size="5.9" text-anchor="middle">b</text>
<text x="238.87" y="362" font-size="5.9" text-anchor="middle">c</text>
<text x="246.51" y="362" font-size="5.9" text-anchor="middle">d</text>
<text x="254.15" y="362" font-size="5.9" text-anchor="middle">e</text>
<text x="261.79" y="362" font-size="5.9" text-anchor="middle">f</text>
<text x="269.43" y="362" font-size="5.9" text-anchor="middle">g</text>
<path d="M19.15 354.3H21.15M19.95 347.8H21.15M19.15 341.3H21.15M19.95 334.8H21.15M19.15 328.3H21.15M19.95 321.8H21.15M19.15 315.3H21.15M19.95 308.8H21.15M19.15 302.3H21.15M19.95 295.8H21.15M19.15 289.3H21.15M19.95 282.8H21.15M19.15 276.3H21.15M24.95 354.3v1.6M32.59 354.3v1.6M40.23 354.3v1.6M47.87 354.3v1.6M55.51 354.3v1.6M63.15 354.3v1.6M70.79 354.3v1.6M78.43 354.3v1.6M86.07 354.3v1.6M93.71 354.3v1.6M101.35 354.3v1.6M108.99 354.3v1.6M116.63 354.3v1.6M124.27 354.3v1.6M131.91 354.3v1.6M139.55 354.3v1.6M147.19 354.3v1.6M154.83 354.3v1.6M162.47 354.3v1.6M170.11 354.3v1.6M177.75 354.3v1.6M185.39 354.3v1.6M193.03 354.3v1.6M200.67 354.3v1.6M208.31 354.3v1.6M215.95 354.3v1.6M223.59 354.3v1.6M231.23 354.3v1.6M238.87 354.3v1.6M246.51 354.3v1.6M254.15 354.3v1.6M261.79 354.3v1.6M269.43 354.3v1.6" stroke="#626262" stroke-width="0.7" fill="none"/>
<path d="M272.25 354.3H273.65M272.81 347.8H273.65M272.25 341.3H273.65M272.81 334.8H273.65M272.25 328.3H273.65M272.81 321.8H273.65M272.25 315.3H273.65M272.81 308.8H273.65M272.25 302.3H273.65M272.81 295.8H273.65M272.25 289.3H273.65M272.81 282.8H273.65M272.25 276.3H273.65" stroke="#626262" stroke-width="0.6" fill="none"/>
<text x="20.25" y="274.1" font-size="7.65" stroke="#111" stroke-width="0.15">(g) Rx5day</text>
<text transform="translate(9.0,313.4) rotate(-90)" font-size="6.7" text-anchor="middle" stroke="#111" stroke-width="0.08">Value of IVS</text>
<rect x="39.7" y="282.6" width="113.2" height="6.1" fill="#fff" stroke="#8a8a8a" stroke-width="0.5"/>
<rect x="40.6" y="283.3" width="9.4" height="4.7" fill="url(#lo)"/>
<text x="51.1" y="287.3" font-size="4.5" fill="#707070">CD</text>
<rect x="58.87" y="283.3" width="9.4" height="4.7" fill="url(#lg)"/>
<text x="69.37" y="287.3" font-size="4.5" fill="#707070">NK</text>
<rect x="77.14" y="283.3" width="9.4" height="4.7" fill="#000"/>
<text x="87.64" y="287.3" font-size="4.5" fill="#707070">NX</text>
<rect x="95.41" y="283.3" width="9.4" height="4.7" fill="#f2f20c"/>
<circle cx="96.98" cy="285.65" r="1.1" fill="none" stroke="#55550a" stroke-width="0.5"/>
<circle cx="100.11" cy="285.65" r="1.1" fill="none" stroke="#55550a" stroke-width="0.5"/>
<circle cx="103.24" cy="285.65" r="1.1" fill="none" stroke="#55550a" stroke-width="0.5"/>
<text x="105.91" y="287.3" font-size="4.5" fill="#707070">SX</text>
<rect x="113.68" y="283.3" width="9.4" height="4.7" fill="#1e90f0"/>
<text x="124.18" y="287.3" font-size="4.5" fill="#707070">TM</text>
<rect x="131.95" y="283.3" width="9.4" height="4.7" fill="#f01010"/>
<text x="142.45" y="287.3" font-size="4.5" fill="#707070">ACA</text>
</g>
<g>
<path d="M293.65 345.3H546.1M293.65 336.7H546.1M293.65 328.1H546.1M293.65 319.5H546.1M293.65 310.9H546.1M293.65 302.3H546.1M293.65 293.7H546.1M293.65 285.1H546.1" stroke="#e9e9e9" stroke-width="0.6" fill="none"/>
<path d="M294 353.9v-1.38h2V353.9zM302 353.9v-3.78h1V353.9zM310 353.9v-1.03h1V353.9zM317 353.9v-10.15h1V353.9zM325 353.9v-4.3h1V353.9zM333 353.9v-9.63h1V353.9zM340 353.9v-4.3h1V353.9zM348 353.9v-2.41h1V353.9zM356 353.9v-6.36h1V353.9zM363 353.9v-2.92h1V353.9zM371 353.9v-2.41h1V353.9zM379 353.9v-1.72h1V353.9zM386 353.9v-1.38h1V353.9zM394 353.9v-2.41h1V353.9zM401 353.9v-1.03h2V353.9zM409 353.9v-1.38h1V353.9zM417 353.9v-1.38h1V353.9zM424 353.9v-2.41h1V353.9zM432 353.9v-7.22h1V353.9zM440 353.9v-5.68h1V353.9zM447 353.9v-2.92h1V353.9zM455 353.9v-3.44h1V353.9zM463 353.9v-2.41h1V353.9zM470 353.9v-7.74h1V353.9zM478 353.9v-1.03h1V353.9zM485 353.9v-0.69h2V353.9zM493 353.9v-0.69h1V353.9zM501 353.9v-0.69h1V353.9zM508 353.9v-0.52h1V353.9zM516 353.9v-19.44h1V353.9zM524 353.9v-13.59h1V353.9zM531 353.9v-6.36h1V353.9zM539 353.9v-2.41h1V353.9z" fill="#e07a1c" stroke="#4a2200" stroke-width="0.45" stroke-opacity="0.5"/>
<path d="M295 353.42V353.9M302.5 351.02V353.9M317.5 344.65V353.9M325.5 350.5V353.9M333.5 345.17V353.9M340.5 350.5V353.9M348.5 352.39V353.9M356.5 348.44V353.9M363.5 351.88V353.9M371.5 352.39V353.9M379.5 353.08V353.9M386.5 353.42V353.9M394.5 352.39V353.9M409.5 353.42V353.9M417.5 353.42V353.9M424.5 352.39V353.9M432.5 347.58V353.9M440.5 349.12V353.9M447.5 351.88V353.9M455.5 351.36V353.9M463.5 352.39V353.9M470.5 347.06V353.9M516.5 335.36V353.9M524.5 341.21V353.9M531.5 348.44V353.9M539.5 352.39V353.9" stroke="#7a3c08" stroke-width="1" stroke-dasharray="0.7 1.5" stroke-opacity="0.55" fill="none"/>
<path d="M296 353.9v-2.41h1V353.9zM303 353.9v-2.41h1V353.9zM311 353.9v-1.38h1V353.9zM318 353.9v-6.36h2V353.9zM326 353.9v-3.78h1V353.9zM334 353.9v-7.74h1V353.9zM341 353.9v-4.3h1V353.9zM349 353.9v-2.41h1V353.9zM357 353.9v-6.36h1V353.9zM364 353.9v-2.92h1V353.9zM372 353.9v-2.41h1V353.9zM380 353.9v-2.41h1V353.9zM387 353.9v-1.72h1V353.9zM395 353.9v-2.41h1V353.9zM403 353.9v-1.72h1V353.9zM410 353.9v-1.72h1V353.9zM418 353.9v-2.41h1V353.9zM425 353.9v-4.3h2V353.9zM433 353.9v-4.3h1V353.9zM441 353.9v-4.3h1V353.9zM448 353.9v-2.41h1V353.9zM456 353.9v-2.92h1V353.9zM464 353.9v-6.36h1V353.9zM471 353.9v-4.99h1V353.9zM479 353.9v-1.38h1V353.9zM487 353.9v-2.41h1V353.9zM494 353.9v-1.72h1V353.9zM502 353.9v-2.41h1V353.9zM509 353.9v-1.38h2V353.9zM517 353.9v-9.29h1V353.9zM525 353.9v-9.29h1V353.9zM532 353.9v-5.68h2V353.9zM540 353.9v-1.72h1V353.9z" fill="#16a038" stroke="#002a08" stroke-width="0.45" stroke-opacity="0.5"/>
<path d="M296.5 352.39V353.9M303.5 352.39V353.9M311.5 353.42V353.9M319 348.44V353.9M326.5 351.02V353.9M334.5 347.06V353.9M341.5 350.5V353.9M349.5 352.39V353.9M357.5 348.44V353.9M364.5 351.88V353.9M372.5 352.39V353.9M380.5 352.39V353.9M387.5 353.08V353.9M395.5 352.39V353.9M403.5 353.08V353.9M410.5 353.08V353.9M418.5 352.39V353.9M426 350.5V353.9M433.5 350.5V353.9M441.5 350.5V353.9M448.5 352.39V353.9M456.5 351.88V353.9M464.5 348.44V353.9M471.5 349.81V353.9M479.5 353.42V353.9M487.5 352.39V353.9M494.5 353.08V353.9M502.5 352.39V353.9M510 353.42V353.9M517.5 345.51V353.9M525.5 345.51V353.9M533 349.12V353.9M540.5 353.08V353.9" stroke="#04300c" stroke-width="1" stroke-dasharray="0.9 1.3" stroke-opacity="0.8" fill="none"/>
<path d="M297 353.9v-4.3h1V353.9zM304 353.9v-6.88h1V353.9zM312 353.9v-2.41h1V353.9zM320 353.9v-10.15h1V353.9zM327 353.9v-4.99h1V353.9zM335 353.9v-12.21h1V353.9zM342 353.9v-4.99h2V353.9zM350 353.9v-4.99h1V353.9zM358 353.9v-8.77h1V353.9zM365 353.9v-7.74h2V353.9zM373 353.9v-5.68h1V353.9zM381 353.9v-12.21h1V353.9zM388 353.9v-6.36h1V353.9zM396 353.9v-8.26h1V353.9zM404 353.9v-2.41h1V353.9zM411 353.9v-2.92h1V353.9zM419 353.9v-3.44h1V353.9zM427 353.9v-6.36h1V353.9zM434 353.9v-5.33h1V353.9zM442 353.9v-4.3h1V353.9zM449 353.9v-5.68h2V353.9zM457 353.9v-4.3h1V353.9zM465 353.9v-13.59h1V353.9zM472 353.9v-14.1h1V353.9zM480 353.9v-3.44h1V353.9zM488 353.9v-3.78h1V353.9zM495 353.9v-1.38h1V353.9zM503 353.9v-5.68h1V353.9zM511 353.9v-2.41h1V353.9zM518 353.9v-18.58h1V353.9zM526 353.9v-15.48h1V353.9zM533 353.9v-10.15h2V353.9zM541 353.9v-3.78h1V353.9z" fill="#0c0c0c" stroke="#000" stroke-width="0.55" stroke-opacity="0.55"/>
<path d="M298 353.9v-8.77h1V353.9zM305 353.9v-5.33h1V353.9zM313 353.9v-16.68h1V353.9zM321 353.9v-68.8h1V353.9zM328 353.9v-11.18h1V353.9zM336 353.9v-7.22h1V353.9zM344 353.9v-12.73h1V353.9zM351 353.9v-26.83h1V353.9zM359 353.9v-11.52h1V353.9zM367 353.9v-27.18h1V353.9zM374 353.9v-36.64h1V353.9zM382 353.9v-30.79h1V353.9zM389 353.9v-34.23h2V353.9zM397 353.9v-28.72h1V353.9zM405 353.9v-49.88h1V353.9zM412 353.9v-30.79h1V353.9zM420 353.9v-50.74h1V353.9zM428 353.9v-11.52h1V353.9zM435 353.9v-68.97h1V353.9zM443 353.9v-48.68h1V353.9zM451 353.9v-21.33h1V353.9zM458 353.9v-29.76h1V353.9zM466 353.9v-44.89h1V353.9zM473 353.9v-46.78h2V353.9zM481 353.9v-25.28h1V353.9zM489 353.9v-2.41h1V353.9zM496 353.9v-16.17h1V353.9zM504 353.9v-31.13h1V353.9zM512 353.9v-14.1h1V353.9zM519 353.9v-26.49h1V353.9zM527 353.9v-11.18h1V353.9zM535 353.9v-6.88h1V353.9zM542 353.9v-25.28h1V353.9z" fill="#d6d612" stroke="#66660a" stroke-width="0.75" stroke-opacity="0.75"/>
<path d="M298.5 346.03V353.9M305.5 349.47V353.9M313.5 338.12V353.9M321.5 286V353.9M328.5 343.62V353.9M336.5 347.58V353.9M344.5 342.07V353.9M351.5 327.97V353.9M359.5 343.28V353.9M367.5 327.62V353.9M374.5 318.16V353.9M382.5 324.01V353.9M390 320.57V353.9M397.5 326.08V353.9M405.5 304.92V353.9M412.5 324.01V353.9M420.5 304.06V353.9M428.5 343.28V353.9M435.5 285.83V353.9M443.5 306.12V353.9M451.5 333.47V353.9M458.5 325.04V353.9M466.5 309.91V353.9M474 308.02V353.9M481.5 329.52V353.9M489.5 352.39V353.9M496.5 338.63V353.9M504.5 323.67V353.9M512.5 340.7V353.9M519.5 328.31V353.9M527.5 343.62V353.9M535.5 347.92V353.9M542.5 329.52V353.9" stroke="#3c3c00" stroke-width="1" stroke-dasharray="0.8 1.8" stroke-opacity="0.7" fill="none"/>
<path d="M299 353.9v-6.88h1V353.9zM306 353.9v-13.59h2V353.9zM314 353.9v-3.44h1V353.9zM322 353.9v-22.53h1V353.9zM329 353.9v-5.68h1V353.9zM337 353.9v-7.22h1V353.9zM345 353.9v-5.68h1V353.9zM352 353.9v-5.33h1V353.9zM360 353.9v-11.18h1V353.9zM368 353.9v-12.73h1V353.9zM375 353.9v-9.63h1V353.9zM383 353.9v-11.18h1V353.9zM391 353.9v-10.15h1V353.9zM398 353.9v-15.14h1V353.9zM406 353.9v-4.99h1V353.9zM413 353.9v-12.73h2V353.9zM421 353.9v-9.63h1V353.9zM429 353.9v-11.18h1V353.9zM436 353.9v-9.29h1V353.9zM444 353.9v-10.15h1V353.9zM452 353.9v-7.74h1V353.9zM459 353.9v-8.26h1V353.9zM467 353.9v-24.94h1V353.9zM475 353.9v-13.07h1V353.9zM482 353.9v-4.99h1V353.9zM490 353.9v-3.44h1V353.9zM497 353.9v-4.99h2V353.9zM505 353.9v-7.22h1V353.9zM513 353.9v-7.74h1V353.9zM520 353.9v-19.95h1V353.9zM528 353.9v-14.1h1V353.9zM536 353.9v-9.29h1V353.9zM543 353.9v-4.3h1V353.9z" fill="#1a8ce2" stroke="#08335e" stroke-width="0.55" stroke-opacity="0.55"/>
<path d="M300 353.9v-4.3h1V353.9zM308 353.9v-6.36h1V353.9zM315 353.9v-2.92h1V353.9zM323 353.9v-16.68h1V353.9zM330 353.9v-6.36h2V353.9zM338 353.9v-11.52h1V353.9zM346 353.9v-6.36h1V353.9zM353 353.9v-4.99h1V353.9zM361 353.9v-10.15h1V353.9zM369 353.9v-8.77h1V353.9zM376 353.9v-7.74h1V353.9zM384 353.9v-8.77h1V353.9zM392 353.9v-8.26h1V353.9zM399 353.9v-8.77h1V353.9zM407 353.9v-4.3h1V353.9zM415 353.9v-7.22h1V353.9zM422 353.9v-7.74h1V353.9zM430 353.9v-5.68h1V353.9zM437 353.9v-12.21h2V353.9zM445 353.9v-11.52h1V353.9zM453 353.9v-6.88h1V353.9zM460 353.9v-6.88h1V353.9zM468 353.9v-13.59h1V353.9zM476 353.9v-13.59h1V353.9zM483 353.9v-3.78h1V353.9zM491 353.9v-4.3h1V353.9zM499 353.9v-3.78h1V353.9zM506 353.9v-6.36h1V353.9zM514 353.9v-3.44h1V353.9zM521 353.9v-17.03h2V353.9zM529 353.9v-13.59h1V353.9zM537 353.9v-9.63h1V353.9zM544 353.9v-4.3h2V353.9z" fill="#e4142a" stroke="#55000a" stroke-width="0.5" stroke-opacity="0.5"/>
<rect x="293.65" y="276.4" width="252.45" height="77.5" fill="none" stroke="#626262" stroke-width="0.85"/>
<text x="290.05" y="356.05" font-size="5.75" text-anchor="end" stroke="#111" stroke-width="0.05">0</text>
<text x="290.05" y="347.45" font-size="5.75" text-anchor="end" stroke="#111" stroke-width="0.05">5</text>
<text x="290.05" y="338.85" font-size="5.75" text-anchor="end" stroke="#111" stroke-width="0.05">10</text>
<text x="290.05" y="330.25" font-size="5.75" text-anchor="end" stroke="#111" stroke-width="0.05">15</text>
<text x="290.05" y="321.65" font-size="5.75" text-anchor="end" stroke="#111" stroke-width="0.05">20</text>
<text x="290.05" y="313.05" font-size="5.75" text-anchor="end" stroke="#111" stroke-width="0.05">25</text>
<text x="290.05" y="304.45" font-size="5.75" text-anchor="end" stroke="#111" stroke-width="0.05">30</text>
<text x="290.05" y="295.85" font-size="5.75" text-anchor="end" stroke="#111" stroke-width="0.05">35</text>
<text x="290.05" y="287.25" font-size="5.75" text-anchor="end" stroke="#111" stroke-width="0.05">40</text>
<text x="290.05" y="278.65" font-size="5.75" text-anchor="end" stroke="#111" stroke-width="0.05">45</text>
<text x="297.75" y="361.6" font-size="5.9" text-anchor="middle">A</text>
<text x="305.39" y="361.6" font-size="5.9" text-anchor="middle">B</text>
<text x="313.03" y="361.6" font-size="5.9" text-anchor="middle">C</text>
<text x="320.67" y="361.6" font-size="5.9" text-anchor="middle">D</text>
<text x="328.31" y="361.6" font-size="5.9" text-anchor="middle">E</text>
<text x="335.95" y="361.6" font-size="5.9" text-anchor="middle">F</text>
<text x="343.59" y="361.6" font-size="5.9" text-anchor="middle">G</text>
<text x="351.23" y="361.6" font-size="5.9" text-anchor="middle">H</text>
<text x="358.87" y="361.6" font-size="5.9" text-anchor="middle">I</text>
<text x="366.51" y="361.6" font-size="5.9" text-anchor="middle">J</text>
<text x="374.15" y="361.6" font-size="5.9" text-anchor="middle">K</text>
<text x="381.79" y="361.6" font-size="5.9" text-anchor="middle">L</text>
<text x="389.43" y="361.6" font-size="5.9" text-anchor="middle">M</text>
<text x="397.07" y="361.6" font-size="5.9" text-anchor="middle">N</text>
<text x="404.71" y="361.6" font-size="5.9" text-anchor="middle">O</text>
<text x="412.35" y="361.6" font-size="5.9" text-anchor="middle">P</text>
<text x="419.99" y="361.6" font-size="5.9" text-anchor="middle">Q</text>
<text x="427.63" y="361.6" font-size="5.9" text-anchor="middle">R</text>
<text x="435.27" y="361.6" font-size="5.9" text-anchor="middle">S</text>
<text x="442.91" y="361.6" font-size="5.9" text-anchor="middle">T</text>
<text x="450.55" y="361.6" font-size="5.9" text-anchor="middle">U</text>
<text x="458.19" y="361.6" font-size="5.9" text-anchor="middle">V</text>
<text x="465.83" y="361.6" font-size="5.9" text-anchor="middle">W</text>
<text x="473.47" y="361.6" font-size="5.9" text-anchor="middle">X</text>
<text x="481.11" y="361.6" font-size="5.9" text-anchor="middle">Y</text>
<text x="488.75" y="361.6" font-size="5.9" text-anchor="middle">Z</text>
<text x="496.39" y="361.6" font-size="5.9" text-anchor="middle">a</text>
<text x="504.03" y="361.6" font-size="5.9" text-anchor="middle">b</text>
<text x="511.67" y="361.6" font-size="5.9" text-anchor="middle">c</text>
<text x="519.31" y="361.6" font-size="5.9" text-anchor="middle">d</text>
<text x="526.95" y="361.6" font-size="5.9" text-anchor="middle">e</text>
<text x="534.59" y="361.6" font-size="5.9" text-anchor="middle">f</text>
<text x="542.23" y="361.6" font-size="5.9" text-anchor="middle">g</text>
<path d="M291.65 353.9H293.65M292.45 349.6H293.65M291.65 345.3H293.65M292.45 341H293.65M291.65 336.7H293.65M292.45 332.4H293.65M291.65 328.1H293.65M292.45 323.8H293.65M291.65 319.5H293.65M292.45 315.2H293.65M291.65 310.9H293.65M292.45 306.6H293.65M291.65 302.3H293.65M292.45 298H293.65M291.65 293.7H293.65M292.45 289.4H293.65M291.65 285.1H293.65M292.45 280.8H293.65M291.65 276.5H293.65M297.75 353.9v1.6M305.39 353.9v1.6M313.03 353.9v1.6M320.67 353.9v1.6M328.31 353.9v1.6M335.95 353.9v1.6M343.59 353.9v1.6M351.23 353.9v1.6M358.87 353.9v1.6M366.51 353.9v1.6M374.15 353.9v1.6M381.79 353.9v1.6M389.43 353.9v1.6M397.07 353.9v1.6M404.71 353.9v1.6M412.35 353.9v1.6M419.99 353.9v1.6M427.63 353.9v1.6M435.27 353.9v1.6M442.91 353.9v1.6M450.55 353.9v1.6M458.19 353.9v1.6M465.83 353.9v1.6M473.47 353.9v1.6M481.11 353.9v1.6M488.75 353.9v1.6M496.39 353.9v1.6M504.03 353.9v1.6M511.67 353.9v1.6M519.31 353.9v1.6M526.95 353.9v1.6M534.59 353.9v1.6M542.23 353.9v1.6" stroke="#626262" stroke-width="0.7" fill="none"/>
<path d="M544.7 353.9H546.1M545.26 349.6H546.1M544.7 345.3H546.1M545.26 341H546.1M544.7 336.7H546.1M545.26 332.4H546.1M544.7 328.1H546.1M545.26 323.8H546.1M544.7 319.5H546.1M545.26 315.2H546.1M544.7 310.9H546.1M545.26 306.6H546.1M544.7 302.3H546.1M545.26 298H546.1M544.7 293.7H546.1M545.26 289.4H546.1M544.7 285.1H546.1M545.26 280.8H546.1M544.7 276.5H546.1" stroke="#626262" stroke-width="0.6" fill="none"/>
<text x="293" y="274.7" font-size="7.65" stroke="#111" stroke-width="0.15">(h) SDII</text>
<text transform="translate(281.3,313.1) rotate(-90)" font-size="6.7" text-anchor="middle" stroke="#111" stroke-width="0.08">Value of IVS</text>
<rect x="315.8" y="281.7" width="113.2" height="6.1" fill="#fff" stroke="#8a8a8a" stroke-width="0.5"/>
<rect x="316.7" y="282.4" width="9.4" height="4.7" fill="url(#lo)"/>
<text x="327.2" y="286.4" font-size="4.5" fill="#707070">CD</text>
<rect x="334.97" y="282.4" width="9.4" height="4.7" fill="url(#lg)"/>
<text x="345.47" y="286.4" font-size="4.5" fill="#707070">NK</text>
<rect x="353.24" y="282.4" width="9.4" height="4.7" fill="#000"/>
<text x="363.74" y="286.4" font-size="4.5" fill="#707070">NX</text>
<rect x="371.51" y="282.4" width="9.4" height="4.7" fill="#f2f20c"/>
<circle cx="373.08" cy="284.75" r="1.1" fill="none" stroke="#55550a" stroke-width="0.5"/>
<circle cx="376.21" cy="284.75" r="1.1" fill="none" stroke="#55550a" stroke-width="0.5"/>
<circle cx="379.34" cy="284.75" r="1.1" fill="none" stroke="#55550a" stroke-width="0.5"/>
<text x="382.01" y="286.4" font-size="4.5" fill="#707070">SX</text>
<rect x="389.78" y="282.4" width="9.4" height="4.7" fill="#1e90f0"/>
<text x="400.28" y="286.4" font-size="4.5" fill="#707070">TM</text>
<rect x="408.05" y="282.4" width="9.4" height="4.7" fill="#f01010"/>
<text x="418.55" y="286.4" font-size="4.5" fill="#707070">ACA</text>
</g>
</svg></body></html>
